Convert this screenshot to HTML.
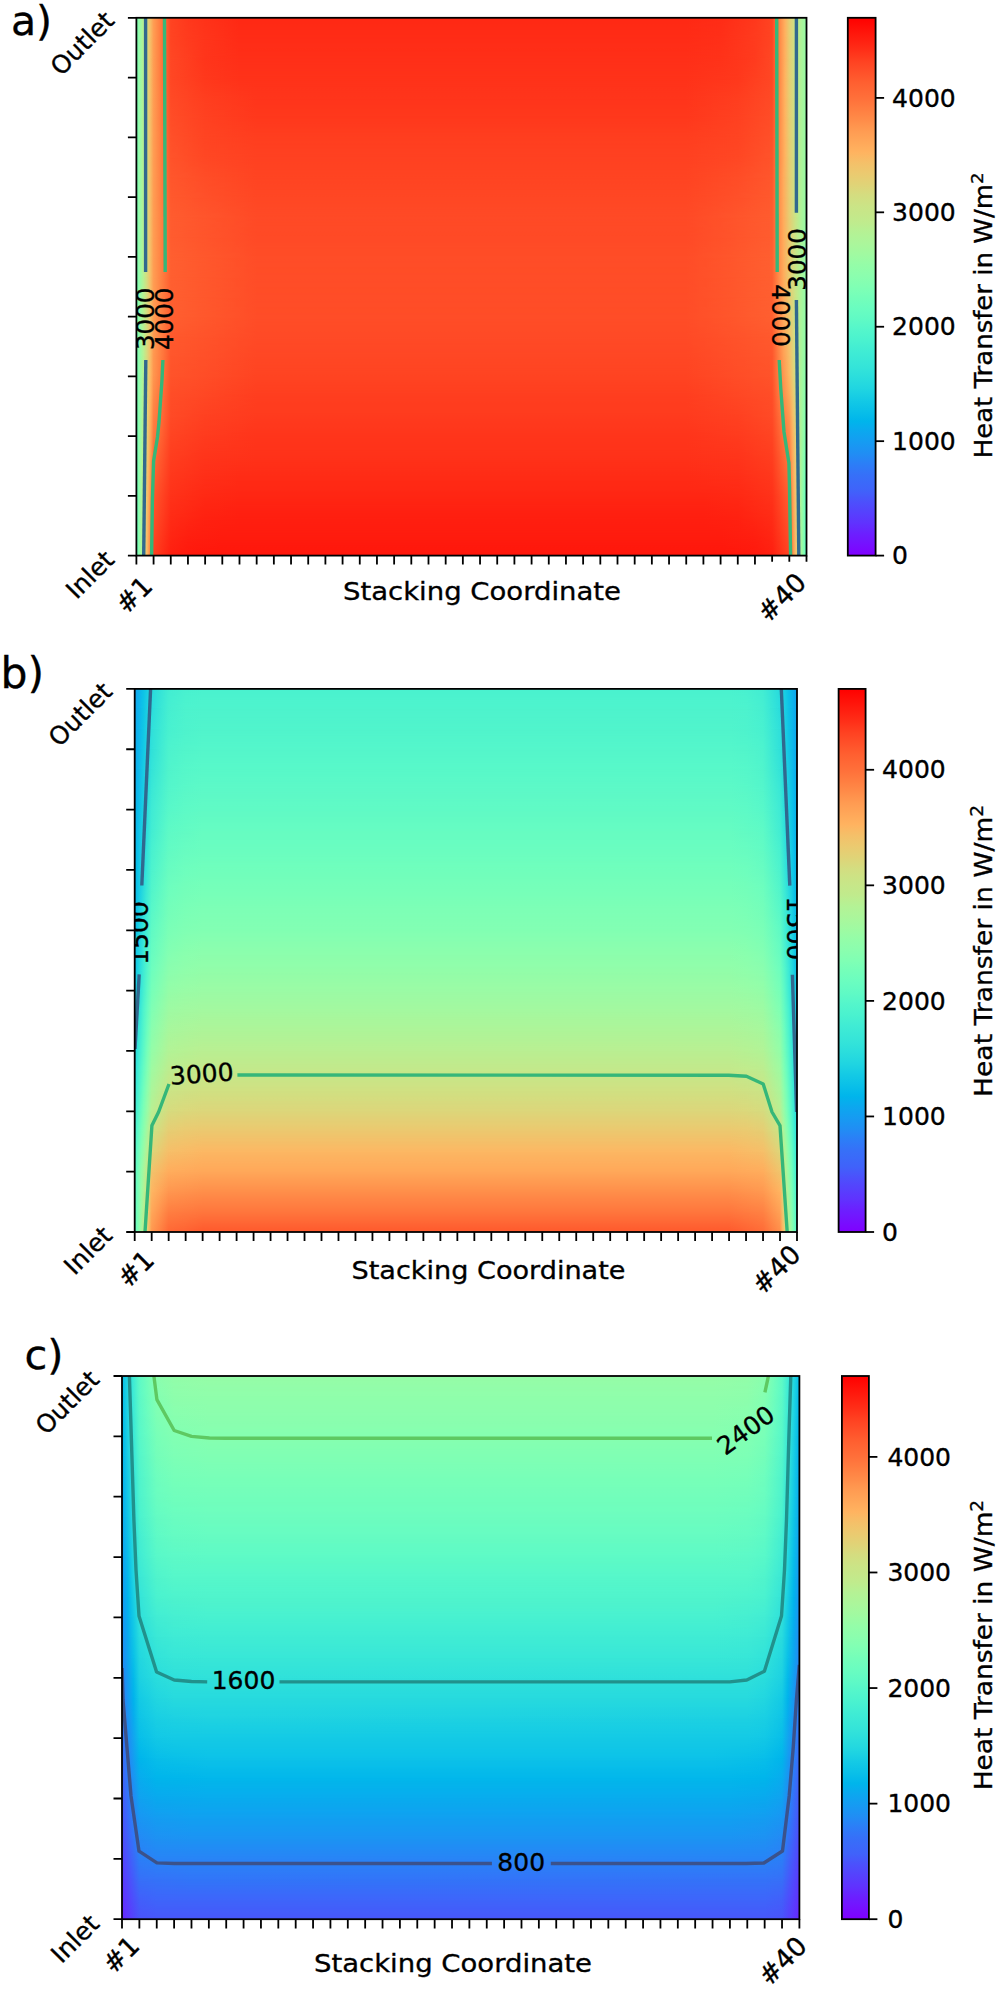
<!DOCTYPE html>
<html><head><meta charset="utf-8"><title>Heat Transfer</title>
<style>html,body{margin:0;padding:0;background:#fff}svg{display:block}text{font-family:'DejaVu Sans','Liberation Sans',sans-serif;fill:#000;stroke:#000;stroke-width:.35px}</style>
</head><body>
<svg width="1000" height="1990" viewBox="0 0 1000 1990">
<defs>
<linearGradient id="va" x1="0" y1="0" x2="0" y2="1"><stop offset="0" stop-color="#fff" stop-opacity="0"/><stop offset="1" stop-color="#fff" stop-opacity="1"/></linearGradient>
<mask id="mk" maskContentUnits="objectBoundingBox" x="0" y="0" width="1" height="1"><rect width="1" height="1" fill="url(#va)"/></mask>
<clipPath id="ca"><rect x="136.4" y="17.8" width="670.1" height="537.8"/></clipPath>
<linearGradient id="g0" gradientUnits="userSpaceOnUse" x1="136.4" x2="806.5" y1="0" y2="0"><stop offset="0" stop-color="#7affb7"/><stop offset=".0051" stop-color="#99fca6"/><stop offset=".0103" stop-color="#b6f193"/><stop offset=".0154" stop-color="#d6db7e"/><stop offset=".0205" stop-color="#f4c069"/><stop offset=".0256" stop-color="#ff9d53"/><stop offset=".0385" stop-color="#ff733b"/><stop offset=".0513" stop-color="#ff4422"/><stop offset=".0769" stop-color="#ff381c"/><stop offset=".1026" stop-color="#ff3219"/><stop offset=".1538" stop-color="#ff2914"/><stop offset=".8205" stop-color="#ff2914"/><stop offset=".8718" stop-color="#ff2c16"/><stop offset=".9231" stop-color="#ff381c"/><stop offset=".9487" stop-color="#ff4422"/><stop offset=".9551" stop-color="#ff6b37"/><stop offset=".9615" stop-color="#ff914c"/><stop offset=".9679" stop-color="#ffb05f"/><stop offset=".9744" stop-color="#e6cd73"/><stop offset=".9829" stop-color="#cce385"/><stop offset=".9915" stop-color="#b0f397"/><stop offset="1" stop-color="#94fda8"/></linearGradient>
<linearGradient id="g1" gradientUnits="userSpaceOnUse" x1="136.4" x2="806.5" y1="0" y2="0"><stop offset="0" stop-color="#7affb7"/><stop offset=".0051" stop-color="#99fca6"/><stop offset=".0103" stop-color="#b6f193"/><stop offset=".0154" stop-color="#d6db7e"/><stop offset=".0205" stop-color="#f4c069"/><stop offset=".0256" stop-color="#ff9d53"/><stop offset=".0385" stop-color="#ff733b"/><stop offset=".0513" stop-color="#ff4422"/><stop offset=".0769" stop-color="#ff3b1e"/><stop offset=".1026" stop-color="#ff351b"/><stop offset=".1538" stop-color="#ff2c16"/><stop offset=".8205" stop-color="#ff2c16"/><stop offset=".8718" stop-color="#ff2f18"/><stop offset=".9231" stop-color="#ff3b1e"/><stop offset=".9487" stop-color="#ff4422"/><stop offset=".9551" stop-color="#ff6d38"/><stop offset=".9615" stop-color="#ff914c"/><stop offset=".9679" stop-color="#ffb05f"/><stop offset=".9744" stop-color="#e6cd73"/><stop offset=".9829" stop-color="#cce385"/><stop offset=".9915" stop-color="#b0f397"/><stop offset="1" stop-color="#94fda8"/></linearGradient>
<linearGradient id="g2" gradientUnits="userSpaceOnUse" x1="136.4" x2="806.5" y1="0" y2="0"><stop offset="0" stop-color="#7affb7"/><stop offset=".0051" stop-color="#99fca6"/><stop offset=".0103" stop-color="#b6f193"/><stop offset=".0154" stop-color="#d6db7e"/><stop offset=".0205" stop-color="#f4c069"/><stop offset=".0256" stop-color="#ff9d53"/><stop offset=".0385" stop-color="#ff733b"/><stop offset=".0513" stop-color="#ff4724"/><stop offset=".1026" stop-color="#ff351b"/><stop offset=".1538" stop-color="#ff2f18"/><stop offset=".8205" stop-color="#ff2f18"/><stop offset=".8718" stop-color="#ff3219"/><stop offset=".9231" stop-color="#ff3b1e"/><stop offset=".9487" stop-color="#ff4724"/><stop offset=".9551" stop-color="#ff6d38"/><stop offset=".9615" stop-color="#ff914c"/><stop offset=".9679" stop-color="#ffb05f"/><stop offset=".9744" stop-color="#e6cd73"/><stop offset=".9829" stop-color="#cce385"/><stop offset=".9915" stop-color="#b0f397"/><stop offset="1" stop-color="#94fda8"/></linearGradient>
<linearGradient id="g3" gradientUnits="userSpaceOnUse" x1="136.4" x2="806.5" y1="0" y2="0"><stop offset="0" stop-color="#7affb7"/><stop offset=".0051" stop-color="#99fca6"/><stop offset=".0103" stop-color="#b6f193"/><stop offset=".0154" stop-color="#d6db7e"/><stop offset=".0205" stop-color="#f4c069"/><stop offset=".0256" stop-color="#ff9d53"/><stop offset=".0385" stop-color="#ff733b"/><stop offset=".0513" stop-color="#ff4724"/><stop offset=".1026" stop-color="#ff381c"/><stop offset=".1538" stop-color="#ff3219"/><stop offset=".8205" stop-color="#ff3219"/><stop offset=".8974" stop-color="#ff381c"/><stop offset=".9487" stop-color="#ff4724"/><stop offset=".9551" stop-color="#ff6d38"/><stop offset=".9615" stop-color="#ff914c"/><stop offset=".9679" stop-color="#ffb360"/><stop offset=".9744" stop-color="#e6cd73"/><stop offset=".9829" stop-color="#cce385"/><stop offset=".9915" stop-color="#b0f397"/><stop offset="1" stop-color="#94fda8"/></linearGradient>
<linearGradient id="g4" gradientUnits="userSpaceOnUse" x1="136.4" x2="806.5" y1="0" y2="0"><stop offset="0" stop-color="#7affb7"/><stop offset=".0051" stop-color="#99fca6"/><stop offset=".0103" stop-color="#b6f193"/><stop offset=".0154" stop-color="#d6db7e"/><stop offset=".0205" stop-color="#f4c069"/><stop offset=".0256" stop-color="#ff9d53"/><stop offset=".0385" stop-color="#ff763d"/><stop offset=".0513" stop-color="#ff4a26"/><stop offset=".1026" stop-color="#ff3e1f"/><stop offset=".1795" stop-color="#ff351b"/><stop offset=".8205" stop-color="#ff351b"/><stop offset=".8974" stop-color="#ff3e1f"/><stop offset=".9487" stop-color="#ff4a26"/><stop offset=".9551" stop-color="#ff703a"/><stop offset=".9615" stop-color="#ff934d"/><stop offset=".9679" stop-color="#ffb360"/><stop offset=".9744" stop-color="#e6cd73"/><stop offset=".9829" stop-color="#cce385"/><stop offset=".9915" stop-color="#b0f397"/><stop offset="1" stop-color="#94fda8"/></linearGradient>
<linearGradient id="g5" gradientUnits="userSpaceOnUse" x1="136.4" x2="806.5" y1="0" y2="0"><stop offset="0" stop-color="#7affb7"/><stop offset=".0051" stop-color="#99fca6"/><stop offset=".0103" stop-color="#b6f193"/><stop offset=".0154" stop-color="#d6db7e"/><stop offset=".0205" stop-color="#f4c069"/><stop offset=".0256" stop-color="#ff9d53"/><stop offset=".0385" stop-color="#ff763d"/><stop offset=".0513" stop-color="#ff4d27"/><stop offset=".1026" stop-color="#ff4121"/><stop offset=".1795" stop-color="#ff381c"/><stop offset=".8205" stop-color="#ff381c"/><stop offset=".8974" stop-color="#ff4121"/><stop offset=".9487" stop-color="#ff4d27"/><stop offset=".9551" stop-color="#ff703a"/><stop offset=".9615" stop-color="#ff934d"/><stop offset=".9679" stop-color="#ffb360"/><stop offset=".9744" stop-color="#e6cd73"/><stop offset=".9829" stop-color="#cce385"/><stop offset=".9915" stop-color="#b0f397"/><stop offset="1" stop-color="#94fda8"/></linearGradient>
<linearGradient id="g6" gradientUnits="userSpaceOnUse" x1="136.4" x2="806.5" y1="0" y2="0"><stop offset="0" stop-color="#7affb7"/><stop offset=".0051" stop-color="#99fca6"/><stop offset=".0103" stop-color="#b6f193"/><stop offset=".0154" stop-color="#d6db7e"/><stop offset=".0205" stop-color="#f4c069"/><stop offset=".0256" stop-color="#ff9d53"/><stop offset=".0385" stop-color="#ff793e"/><stop offset=".0513" stop-color="#ff5029"/><stop offset=".1026" stop-color="#ff4422"/><stop offset=".1795" stop-color="#ff3e1f"/><stop offset=".8205" stop-color="#ff3e1f"/><stop offset=".8974" stop-color="#ff4422"/><stop offset=".9487" stop-color="#ff5029"/><stop offset=".9551" stop-color="#ff733b"/><stop offset=".9615" stop-color="#ff964f"/><stop offset=".9679" stop-color="#ffb360"/><stop offset=".9744" stop-color="#e6cd73"/><stop offset=".9829" stop-color="#cce385"/><stop offset=".9915" stop-color="#b0f397"/><stop offset="1" stop-color="#94fda8"/></linearGradient>
<linearGradient id="g7" gradientUnits="userSpaceOnUse" x1="136.4" x2="806.5" y1="0" y2="0"><stop offset="0" stop-color="#7affb7"/><stop offset=".0051" stop-color="#99fca6"/><stop offset=".0103" stop-color="#b6f193"/><stop offset=".0154" stop-color="#d6db7e"/><stop offset=".0205" stop-color="#f4c069"/><stop offset=".0256" stop-color="#ff9d53"/><stop offset=".0385" stop-color="#ff793e"/><stop offset=".0513" stop-color="#ff532a"/><stop offset=".1026" stop-color="#ff4724"/><stop offset=".1795" stop-color="#ff4121"/><stop offset=".8205" stop-color="#ff4121"/><stop offset=".8974" stop-color="#ff4724"/><stop offset=".9487" stop-color="#ff532a"/><stop offset=".9551" stop-color="#ff763d"/><stop offset=".9615" stop-color="#ff964f"/><stop offset=".9679" stop-color="#ffb360"/><stop offset=".9744" stop-color="#e6cd73"/><stop offset=".9829" stop-color="#cce385"/><stop offset=".9915" stop-color="#b0f397"/><stop offset="1" stop-color="#94fda8"/></linearGradient>
<linearGradient id="g8" gradientUnits="userSpaceOnUse" x1="136.4" x2="806.5" y1="0" y2="0"><stop offset="0" stop-color="#7affb7"/><stop offset=".0051" stop-color="#99fca6"/><stop offset=".0103" stop-color="#b6f193"/><stop offset=".0154" stop-color="#d6db7e"/><stop offset=".0205" stop-color="#f4c069"/><stop offset=".0256" stop-color="#ff9d53"/><stop offset=".0385" stop-color="#ff7b40"/><stop offset=".0513" stop-color="#ff562c"/><stop offset=".1026" stop-color="#ff4d27"/><stop offset=".1795" stop-color="#ff4422"/><stop offset=".8205" stop-color="#ff4422"/><stop offset=".8974" stop-color="#ff4d27"/><stop offset=".9487" stop-color="#ff562c"/><stop offset=".9573" stop-color="#ff8444"/><stop offset=".9658" stop-color="#ffac5c"/><stop offset=".9744" stop-color="#e6cd73"/><stop offset=".9829" stop-color="#cce385"/><stop offset=".9915" stop-color="#b0f397"/><stop offset="1" stop-color="#94fda8"/></linearGradient>
<linearGradient id="g9" gradientUnits="userSpaceOnUse" x1="136.4" x2="806.5" y1="0" y2="0"><stop offset="0" stop-color="#7affb7"/><stop offset=".0051" stop-color="#99fca6"/><stop offset=".0103" stop-color="#b6f193"/><stop offset=".0154" stop-color="#d6db7e"/><stop offset=".0205" stop-color="#f4c069"/><stop offset=".0256" stop-color="#ff9d53"/><stop offset=".0385" stop-color="#ff7b40"/><stop offset=".0513" stop-color="#ff592d"/><stop offset=".1026" stop-color="#ff5029"/><stop offset=".1795" stop-color="#ff4724"/><stop offset=".8205" stop-color="#ff4724"/><stop offset=".8974" stop-color="#ff5029"/><stop offset=".9487" stop-color="#ff592d"/><stop offset=".9573" stop-color="#ff8646"/><stop offset=".9658" stop-color="#ffac5c"/><stop offset=".9744" stop-color="#e6cd73"/><stop offset=".9829" stop-color="#cce385"/><stop offset=".9915" stop-color="#b0f397"/><stop offset="1" stop-color="#94fda8"/></linearGradient>
<linearGradient id="g10" gradientUnits="userSpaceOnUse" x1="136.4" x2="806.5" y1="0" y2="0"><stop offset="0" stop-color="#7affb7"/><stop offset=".0051" stop-color="#99fca6"/><stop offset=".0103" stop-color="#b6f193"/><stop offset=".0154" stop-color="#d6db7e"/><stop offset=".0205" stop-color="#f4c069"/><stop offset=".0256" stop-color="#ff9d53"/><stop offset=".0385" stop-color="#ff7e41"/><stop offset=".0513" stop-color="#ff5c2f"/><stop offset=".1795" stop-color="#ff4a26"/><stop offset=".8205" stop-color="#ff4a26"/><stop offset=".9487" stop-color="#ff5c2f"/><stop offset=".9573" stop-color="#ff8646"/><stop offset=".9658" stop-color="#ffac5c"/><stop offset=".9744" stop-color="#e6cd73"/><stop offset=".9829" stop-color="#cce385"/><stop offset=".9915" stop-color="#b0f397"/><stop offset="1" stop-color="#94fda8"/></linearGradient>
<linearGradient id="g11" gradientUnits="userSpaceOnUse" x1="136.4" x2="806.5" y1="0" y2="0"><stop offset="0" stop-color="#7affb7"/><stop offset=".0051" stop-color="#99fca6"/><stop offset=".0103" stop-color="#b6f193"/><stop offset=".0154" stop-color="#d6db7e"/><stop offset=".0205" stop-color="#f4c069"/><stop offset=".0256" stop-color="#ff9d53"/><stop offset=".0385" stop-color="#ff7e41"/><stop offset=".0513" stop-color="#ff5c2f"/><stop offset=".1795" stop-color="#ff4a26"/><stop offset=".8205" stop-color="#ff4a26"/><stop offset=".9487" stop-color="#ff5c2f"/><stop offset=".9573" stop-color="#ff8646"/><stop offset=".9658" stop-color="#ffac5c"/><stop offset=".9744" stop-color="#e8cb72"/><stop offset=".9829" stop-color="#cce385"/><stop offset=".9915" stop-color="#aef498"/><stop offset="1" stop-color="#92fda9"/></linearGradient>
<linearGradient id="g12" gradientUnits="userSpaceOnUse" x1="136.4" x2="806.5" y1="0" y2="0"><stop offset="0" stop-color="#7affb7"/><stop offset=".0051" stop-color="#99fca6"/><stop offset=".0103" stop-color="#b6f193"/><stop offset=".0154" stop-color="#d6db7e"/><stop offset=".0205" stop-color="#f4c069"/><stop offset=".0256" stop-color="#ff9d53"/><stop offset=".0385" stop-color="#ff7e41"/><stop offset=".0513" stop-color="#ff5f30"/><stop offset=".1795" stop-color="#ff4d27"/><stop offset=".8205" stop-color="#ff4d27"/><stop offset=".9487" stop-color="#ff5f30"/><stop offset=".9573" stop-color="#ff8947"/><stop offset=".9658" stop-color="#ffac5c"/><stop offset=".9744" stop-color="#e8cb72"/><stop offset=".9829" stop-color="#cbe486"/><stop offset=".9915" stop-color="#aef498"/><stop offset="1" stop-color="#92fda9"/></linearGradient>
<linearGradient id="g13" gradientUnits="userSpaceOnUse" x1="136.4" x2="806.5" y1="0" y2="0"><stop offset="0" stop-color="#78ffb8"/><stop offset=".0051" stop-color="#99fca6"/><stop offset=".0103" stop-color="#b6f193"/><stop offset=".0154" stop-color="#d4dd80"/><stop offset=".0205" stop-color="#f4c069"/><stop offset=".0256" stop-color="#ff9d53"/><stop offset=".0385" stop-color="#ff7e41"/><stop offset=".0513" stop-color="#ff5f30"/><stop offset=".1795" stop-color="#ff4d27"/><stop offset=".8205" stop-color="#ff4d27"/><stop offset=".9487" stop-color="#ff5f30"/><stop offset=".9573" stop-color="#ff8646"/><stop offset=".9658" stop-color="#ffac5c"/><stop offset=".9744" stop-color="#e8cb72"/><stop offset=".9829" stop-color="#cbe486"/><stop offset=".9915" stop-color="#aef498"/><stop offset="1" stop-color="#90feab"/></linearGradient>
<linearGradient id="g14" gradientUnits="userSpaceOnUse" x1="136.4" x2="806.5" y1="0" y2="0"><stop offset="0" stop-color="#78ffb8"/><stop offset=".0051" stop-color="#96fca7"/><stop offset=".0103" stop-color="#b6f193"/><stop offset=".0154" stop-color="#d4dd80"/><stop offset=".0205" stop-color="#f4c069"/><stop offset=".0256" stop-color="#ff9d53"/><stop offset=".0385" stop-color="#ff7e41"/><stop offset=".0513" stop-color="#ff5f30"/><stop offset=".1795" stop-color="#ff4d27"/><stop offset=".8205" stop-color="#ff4d27"/><stop offset=".9487" stop-color="#ff5f30"/><stop offset=".9573" stop-color="#ff8646"/><stop offset=".9658" stop-color="#ffa95b"/><stop offset=".9744" stop-color="#ebca70"/><stop offset=".9829" stop-color="#cce385"/><stop offset=".9915" stop-color="#aef498"/><stop offset="1" stop-color="#8efeac"/></linearGradient>
<linearGradient id="g15" gradientUnits="userSpaceOnUse" x1="136.4" x2="806.5" y1="0" y2="0"><stop offset="0" stop-color="#78ffb8"/><stop offset=".0051" stop-color="#96fca7"/><stop offset=".0103" stop-color="#b6f193"/><stop offset=".0154" stop-color="#d4dd80"/><stop offset=".0205" stop-color="#f4c069"/><stop offset=".0256" stop-color="#ff9d53"/><stop offset=".0385" stop-color="#ff7e41"/><stop offset=".0513" stop-color="#ff5f30"/><stop offset=".1795" stop-color="#ff4d27"/><stop offset=".8205" stop-color="#ff4d27"/><stop offset=".9487" stop-color="#ff5f30"/><stop offset=".9573" stop-color="#ff8646"/><stop offset=".9658" stop-color="#ffa95b"/><stop offset=".9744" stop-color="#ecc86f"/><stop offset=".9829" stop-color="#cce385"/><stop offset=".9915" stop-color="#acf59a"/><stop offset="1" stop-color="#8efeac"/></linearGradient>
<linearGradient id="g16" gradientUnits="userSpaceOnUse" x1="136.4" x2="806.5" y1="0" y2="0"><stop offset="0" stop-color="#76ffb9"/><stop offset=".0051" stop-color="#96fca7"/><stop offset=".0103" stop-color="#b6f193"/><stop offset=".0154" stop-color="#d6db7e"/><stop offset=".0205" stop-color="#f4c069"/><stop offset=".0256" stop-color="#ff9b52"/><stop offset=".0385" stop-color="#ff7b40"/><stop offset=".0513" stop-color="#ff592d"/><stop offset=".1795" stop-color="#ff4a26"/><stop offset=".8205" stop-color="#ff4a26"/><stop offset=".9487" stop-color="#ff592d"/><stop offset=".9573" stop-color="#ff8143"/><stop offset=".9658" stop-color="#ffa558"/><stop offset=".9744" stop-color="#f2c26b"/><stop offset=".9808" stop-color="#d9da7d"/><stop offset=".9872" stop-color="#beec8e"/><stop offset=".9936" stop-color="#a4f89f"/><stop offset="1" stop-color="#8bfeae"/></linearGradient>
<linearGradient id="g17" gradientUnits="userSpaceOnUse" x1="136.4" x2="806.5" y1="0" y2="0"><stop offset="0" stop-color="#76ffb9"/><stop offset=".0051" stop-color="#96fca7"/><stop offset=".0103" stop-color="#b6f193"/><stop offset=".0154" stop-color="#d6db7e"/><stop offset=".0205" stop-color="#f6be68"/><stop offset=".0256" stop-color="#ff9850"/><stop offset=".0385" stop-color="#ff793e"/><stop offset=".0513" stop-color="#ff562c"/><stop offset=".1795" stop-color="#ff4724"/><stop offset=".8205" stop-color="#ff4724"/><stop offset=".9487" stop-color="#ff562c"/><stop offset=".9573" stop-color="#ff7b40"/><stop offset=".9658" stop-color="#ffa055"/><stop offset=".9744" stop-color="#f6be68"/><stop offset=".9808" stop-color="#dbd87b"/><stop offset=".9872" stop-color="#c0eb8d"/><stop offset=".9936" stop-color="#a4f89f"/><stop offset="1" stop-color="#88ffaf"/></linearGradient>
<linearGradient id="g18" gradientUnits="userSpaceOnUse" x1="136.4" x2="806.5" y1="0" y2="0"><stop offset="0" stop-color="#74feba"/><stop offset=".0043" stop-color="#90feab"/><stop offset=".0085" stop-color="#abf69b"/><stop offset=".0128" stop-color="#c6e789"/><stop offset=".0171" stop-color="#e2d176"/><stop offset=".0214" stop-color="#feb562"/><stop offset=".0256" stop-color="#ff964f"/><stop offset=".0385" stop-color="#ff763d"/><stop offset=".0513" stop-color="#ff532a"/><stop offset=".1795" stop-color="#ff4422"/><stop offset=".8205" stop-color="#ff4422"/><stop offset=".9487" stop-color="#ff532a"/><stop offset=".9573" stop-color="#ff793e"/><stop offset=".9658" stop-color="#ff9850"/><stop offset=".9744" stop-color="#fcb763"/><stop offset=".9808" stop-color="#ded579"/><stop offset=".9872" stop-color="#c0eb8d"/><stop offset=".9936" stop-color="#a2f9a0"/><stop offset="1" stop-color="#84ffb2"/></linearGradient>
<linearGradient id="g19" gradientUnits="userSpaceOnUse" x1="136.4" x2="806.5" y1="0" y2="0"><stop offset="0" stop-color="#72febb"/><stop offset=".0043" stop-color="#90feab"/><stop offset=".0085" stop-color="#acf59a"/><stop offset=".0128" stop-color="#cbe486"/><stop offset=".0171" stop-color="#e6cd73"/><stop offset=".0214" stop-color="#ffb05f"/><stop offset=".0256" stop-color="#ff8c49"/><stop offset=".0385" stop-color="#ff6d38"/><stop offset=".0513" stop-color="#ff4d27"/><stop offset=".1026" stop-color="#ff4724"/><stop offset=".1795" stop-color="#ff3e1f"/><stop offset=".8205" stop-color="#ff3e1f"/><stop offset=".8974" stop-color="#ff4724"/><stop offset=".9487" stop-color="#ff4d27"/><stop offset=".9573" stop-color="#ff703a"/><stop offset=".9658" stop-color="#ff8e4a"/><stop offset=".9744" stop-color="#ffa95b"/><stop offset=".9795" stop-color="#eec66d"/><stop offset=".9846" stop-color="#d2de81"/><stop offset=".9897" stop-color="#b6f193"/><stop offset=".9949" stop-color="#9bfba5"/><stop offset="1" stop-color="#80ffb4"/></linearGradient>
<linearGradient id="g20" gradientUnits="userSpaceOnUse" x1="136.4" x2="806.5" y1="0" y2="0"><stop offset="0" stop-color="#70febc"/><stop offset=".0043" stop-color="#8efeac"/><stop offset=".0085" stop-color="#aef498"/><stop offset=".0128" stop-color="#cce385"/><stop offset=".0171" stop-color="#ebca70"/><stop offset=".0214" stop-color="#ffa95b"/><stop offset=".0256" stop-color="#ff8143"/><stop offset=".0385" stop-color="#ff6835"/><stop offset=".0513" stop-color="#ff4a26"/><stop offset=".1026" stop-color="#ff4121"/><stop offset=".1795" stop-color="#ff3b1e"/><stop offset=".8205" stop-color="#ff3b1e"/><stop offset=".8974" stop-color="#ff4121"/><stop offset=".9487" stop-color="#ff4a26"/><stop offset=".9615" stop-color="#ff733b"/><stop offset=".9744" stop-color="#ff9850"/><stop offset=".9795" stop-color="#f6be68"/><stop offset=".9846" stop-color="#d9da7d"/><stop offset=".9897" stop-color="#b9ef92"/><stop offset=".9949" stop-color="#99fca6"/><stop offset="1" stop-color="#7affb7"/></linearGradient>
<linearGradient id="g21" gradientUnits="userSpaceOnUse" x1="136.4" x2="806.5" y1="0" y2="0"><stop offset="0" stop-color="#6efebe"/><stop offset=".0043" stop-color="#8efeac"/><stop offset=".0085" stop-color="#aef498"/><stop offset=".0128" stop-color="#cee184"/><stop offset=".0171" stop-color="#eec66d"/><stop offset=".0214" stop-color="#ffa256"/><stop offset=".0256" stop-color="#ff793e"/><stop offset=".0385" stop-color="#ff5f30"/><stop offset=".0513" stop-color="#ff4422"/><stop offset=".1026" stop-color="#ff3b1e"/><stop offset=".1795" stop-color="#ff351b"/><stop offset=".8205" stop-color="#ff351b"/><stop offset=".8974" stop-color="#ff3b1e"/><stop offset=".9487" stop-color="#ff4422"/><stop offset=".9615" stop-color="#ff6835"/><stop offset=".9744" stop-color="#ff8947"/><stop offset=".9786" stop-color="#ffac5c"/><stop offset=".9829" stop-color="#e8cb72"/><stop offset=".9872" stop-color="#cce385"/><stop offset=".9915" stop-color="#aef498"/><stop offset=".9957" stop-color="#92fda9"/><stop offset="1" stop-color="#74feba"/></linearGradient>
<linearGradient id="g22" gradientUnits="userSpaceOnUse" x1="136.4" x2="806.5" y1="0" y2="0"><stop offset="0" stop-color="#6dfdbf"/><stop offset=".0037" stop-color="#8bfeae"/><stop offset=".0073" stop-color="#a6f89d"/><stop offset=".011" stop-color="#c4e88a"/><stop offset=".0147" stop-color="#e0d377"/><stop offset=".0183" stop-color="#fcb763"/><stop offset=".022" stop-color="#ff934d"/><stop offset=".0256" stop-color="#ff6d38"/><stop offset=".0513" stop-color="#ff3e1f"/><stop offset=".1026" stop-color="#ff351b"/><stop offset=".1795" stop-color="#ff3219"/><stop offset=".8205" stop-color="#ff3219"/><stop offset=".8974" stop-color="#ff351b"/><stop offset=".9487" stop-color="#ff3e1f"/><stop offset=".9615" stop-color="#ff5c2f"/><stop offset=".9744" stop-color="#ff7b40"/><stop offset=".9786" stop-color="#ffa558"/><stop offset=".9829" stop-color="#ecc86f"/><stop offset=".9872" stop-color="#cce385"/><stop offset=".9915" stop-color="#acf59a"/><stop offset=".9957" stop-color="#8cfead"/><stop offset="1" stop-color="#6dfdbf"/></linearGradient>
<linearGradient id="g23" gradientUnits="userSpaceOnUse" x1="136.4" x2="806.5" y1="0" y2="0"><stop offset="0" stop-color="#6dfdbf"/><stop offset=".0037" stop-color="#8bfeae"/><stop offset=".0073" stop-color="#a8f79c"/><stop offset=".011" stop-color="#c6e789"/><stop offset=".0147" stop-color="#e4cf74"/><stop offset=".0183" stop-color="#ffb05f"/><stop offset=".022" stop-color="#ff8c49"/><stop offset=".0256" stop-color="#ff6232"/><stop offset=".0513" stop-color="#ff381c"/><stop offset=".1026" stop-color="#ff2f18"/><stop offset=".1538" stop-color="#ff2c16"/><stop offset=".8205" stop-color="#ff2c16"/><stop offset=".8974" stop-color="#ff2f18"/><stop offset=".9487" stop-color="#ff381c"/><stop offset=".9615" stop-color="#ff532a"/><stop offset=".9744" stop-color="#ff6d38"/><stop offset=".978" stop-color="#ff964f"/><stop offset=".9817" stop-color="#fbb965"/><stop offset=".9853" stop-color="#ded579"/><stop offset=".989" stop-color="#c0eb8d"/><stop offset=".9927" stop-color="#a2f9a0"/><stop offset=".9963" stop-color="#84ffb2"/><stop offset="1" stop-color="#66fcc2"/></linearGradient>
<linearGradient id="g24" gradientUnits="userSpaceOnUse" x1="136.4" x2="806.5" y1="0" y2="0"><stop offset="0" stop-color="#6afdc0"/><stop offset=".0037" stop-color="#88ffaf"/><stop offset=".0073" stop-color="#a8f79c"/><stop offset=".011" stop-color="#c8e688"/><stop offset=".0147" stop-color="#e6cd73"/><stop offset=".0183" stop-color="#ffac5c"/><stop offset=".022" stop-color="#ff8444"/><stop offset=".0256" stop-color="#ff562c"/><stop offset=".0513" stop-color="#ff3219"/><stop offset=".1026" stop-color="#ff2914"/><stop offset=".1538" stop-color="#ff2613"/><stop offset=".8462" stop-color="#ff2613"/><stop offset=".8974" stop-color="#ff2914"/><stop offset=".9487" stop-color="#ff3219"/><stop offset=".9744" stop-color="#ff5f30"/><stop offset=".978" stop-color="#ff8c49"/><stop offset=".9817" stop-color="#ffb360"/><stop offset=".9853" stop-color="#e0d377"/><stop offset=".989" stop-color="#c0eb8d"/><stop offset=".9927" stop-color="#a0faa1"/><stop offset=".9963" stop-color="#7effb5"/><stop offset="1" stop-color="#5efac6"/></linearGradient>
<linearGradient id="g25" gradientUnits="userSpaceOnUse" x1="136.4" x2="806.5" y1="0" y2="0"><stop offset="0" stop-color="#68fcc1"/><stop offset=".0037" stop-color="#88ffaf"/><stop offset=".0073" stop-color="#abf69b"/><stop offset=".011" stop-color="#cbe486"/><stop offset=".0147" stop-color="#ebca70"/><stop offset=".0183" stop-color="#ffa759"/><stop offset=".022" stop-color="#ff7e41"/><stop offset=".0256" stop-color="#ff5029"/><stop offset=".0513" stop-color="#ff2c16"/><stop offset=".1026" stop-color="#ff2211"/><stop offset=".1538" stop-color="#ff1f10"/><stop offset=".8462" stop-color="#ff1f10"/><stop offset=".8974" stop-color="#ff2211"/><stop offset=".9487" stop-color="#ff2c16"/><stop offset=".9744" stop-color="#ff562c"/><stop offset=".9776" stop-color="#ff7e41"/><stop offset=".9808" stop-color="#ffa558"/><stop offset=".984" stop-color="#eec66d"/><stop offset=".9872" stop-color="#d2de81"/><stop offset=".9904" stop-color="#b4f295"/><stop offset=".9936" stop-color="#99fca6"/><stop offset=".9968" stop-color="#7affb7"/><stop offset="1" stop-color="#5efac6"/></linearGradient>
<linearGradient id="g26" gradientUnits="userSpaceOnUse" x1="136.4" x2="806.5" y1="0" y2="0"><stop offset="0" stop-color="#68fcc1"/><stop offset=".0032" stop-color="#84ffb2"/><stop offset=".0064" stop-color="#a2f9a0"/><stop offset=".0096" stop-color="#beec8e"/><stop offset=".0128" stop-color="#dcd67a"/><stop offset=".016" stop-color="#fbb965"/><stop offset=".0192" stop-color="#ff9850"/><stop offset=".0224" stop-color="#ff703a"/><stop offset=".0256" stop-color="#ff4724"/><stop offset=".0513" stop-color="#ff2613"/><stop offset=".0769" stop-color="#ff1f10"/><stop offset=".1282" stop-color="#ff1c0e"/><stop offset=".8718" stop-color="#ff1c0e"/><stop offset=".9231" stop-color="#ff1f10"/><stop offset=".9487" stop-color="#ff2613"/><stop offset=".9744" stop-color="#ff4d27"/><stop offset=".9776" stop-color="#ff793e"/><stop offset=".9808" stop-color="#ffa055"/><stop offset=".984" stop-color="#f2c26b"/><stop offset=".9872" stop-color="#d4dd80"/><stop offset=".9904" stop-color="#b6f193"/><stop offset=".9936" stop-color="#99fca6"/><stop offset=".9968" stop-color="#7affb7"/><stop offset="1" stop-color="#5df9c7"/></linearGradient>
<linearGradient id="g27" gradientUnits="userSpaceOnUse" x1="136.4" x2="806.5" y1="0" y2="0"><stop offset="0" stop-color="#68fcc1"/><stop offset=".0032" stop-color="#84ffb2"/><stop offset=".0064" stop-color="#a2f9a0"/><stop offset=".0096" stop-color="#c0eb8d"/><stop offset=".0128" stop-color="#ded579"/><stop offset=".016" stop-color="#fcb763"/><stop offset=".0192" stop-color="#ff934d"/><stop offset=".0224" stop-color="#ff6b37"/><stop offset=".0256" stop-color="#ff3e1f"/><stop offset=".0513" stop-color="#ff1f10"/><stop offset=".0769" stop-color="#ff190d"/><stop offset=".1282" stop-color="#ff160b"/><stop offset=".8718" stop-color="#ff160b"/><stop offset=".9231" stop-color="#ff190d"/><stop offset=".9487" stop-color="#ff1f10"/><stop offset=".9744" stop-color="#ff4422"/><stop offset=".9776" stop-color="#ff733b"/><stop offset=".9808" stop-color="#ff9b52"/><stop offset=".984" stop-color="#f4c069"/><stop offset=".9872" stop-color="#d6db7e"/><stop offset=".9904" stop-color="#b9ef92"/><stop offset=".9936" stop-color="#99fca6"/><stop offset=".9968" stop-color="#7affb7"/><stop offset="1" stop-color="#5df9c7"/></linearGradient>
<linearGradient id="cba" x1="0" x2="0" y1="1" y2="0"><stop offset="0" stop-color="#8000ff"/><stop offset="0.02" stop-color="#7610ff"/><stop offset="0.04" stop-color="#6c1fff"/><stop offset="0.06" stop-color="#6032fe"/><stop offset="0.08" stop-color="#5641fd"/><stop offset="0.1" stop-color="#4c50fc"/><stop offset="0.12" stop-color="#4062fa"/><stop offset="0.15" stop-color="#3670f8"/><stop offset="0.17" stop-color="#2c7ef7"/><stop offset="0.19" stop-color="#208ef4"/><stop offset="0.21" stop-color="#169bf2"/><stop offset="0.23" stop-color="#0ca7ef"/><stop offset="0.25" stop-color="#00b5eb"/><stop offset="0.27" stop-color="#0ac0e8"/><stop offset="0.29" stop-color="#14cae5"/><stop offset="0.31" stop-color="#20d5e1"/><stop offset="0.33" stop-color="#2adddd"/><stop offset="0.35" stop-color="#34e4d9"/><stop offset="0.38" stop-color="#40ecd4"/><stop offset="0.4" stop-color="#4af2cf"/><stop offset="0.42" stop-color="#54f6cb"/><stop offset="0.44" stop-color="#60fac5"/><stop offset="0.46" stop-color="#6afdc0"/><stop offset="0.48" stop-color="#74feba"/><stop offset="0.5" stop-color="#80ffb4"/><stop offset="0.52" stop-color="#8bfeae"/><stop offset="0.54" stop-color="#94fda8"/><stop offset="0.56" stop-color="#a0faa1"/><stop offset="0.58" stop-color="#abf69b"/><stop offset="0.6" stop-color="#b4f295"/><stop offset="0.62" stop-color="#c0eb8d"/><stop offset="0.65" stop-color="#cbe486"/><stop offset="0.67" stop-color="#d4dd80"/><stop offset="0.69" stop-color="#e0d377"/><stop offset="0.71" stop-color="#ebca70"/><stop offset="0.73" stop-color="#f4c069"/><stop offset="0.75" stop-color="#ffb360"/><stop offset="0.77" stop-color="#ffa759"/><stop offset="0.79" stop-color="#ff9b52"/><stop offset="0.81" stop-color="#ff8c49"/><stop offset="0.83" stop-color="#ff7e41"/><stop offset="0.85" stop-color="#ff703a"/><stop offset="0.88" stop-color="#ff5f30"/><stop offset="0.9" stop-color="#ff5029"/><stop offset="0.92" stop-color="#ff4121"/><stop offset="0.94" stop-color="#ff2f18"/><stop offset="0.96" stop-color="#ff1f10"/><stop offset="0.98" stop-color="#ff1008"/><stop offset="1" stop-color="#ff0000"/></linearGradient>
<clipPath id="cb"><rect x="134.7" y="688.9" width="662.3" height="543.1"/></clipPath>
<linearGradient id="g28" gradientUnits="userSpaceOnUse" x1="134.7" x2="797" y1="0" y2="0"><stop offset="0" stop-color="#10a2f0"/><stop offset=".0128" stop-color="#0dc2e8"/><stop offset=".0256" stop-color="#27dade"/><stop offset=".0513" stop-color="#42edd3"/><stop offset=".0769" stop-color="#48f1d0"/><stop offset=".1026" stop-color="#4af2cf"/><stop offset=".8974" stop-color="#4af2cf"/><stop offset=".9231" stop-color="#48f1d0"/><stop offset=".9487" stop-color="#42edd3"/><stop offset=".9744" stop-color="#27dade"/><stop offset=".9872" stop-color="#0dc2e8"/><stop offset="1" stop-color="#10a2f0"/></linearGradient>
<linearGradient id="g29" gradientUnits="userSpaceOnUse" x1="134.7" x2="797" y1="0" y2="0"><stop offset="0" stop-color="#0ea5ef"/><stop offset=".0128" stop-color="#0fc4e7"/><stop offset=".0256" stop-color="#2adddd"/><stop offset=".0513" stop-color="#46efd1"/><stop offset=".0769" stop-color="#4df3ce"/><stop offset=".1026" stop-color="#4ef3cd"/><stop offset=".8974" stop-color="#4ef3cd"/><stop offset=".9231" stop-color="#4df3ce"/><stop offset=".9487" stop-color="#46efd1"/><stop offset=".9744" stop-color="#2adddd"/><stop offset=".9872" stop-color="#0fc4e7"/><stop offset="1" stop-color="#0ea5ef"/></linearGradient>
<linearGradient id="g30" gradientUnits="userSpaceOnUse" x1="134.7" x2="797" y1="0" y2="0"><stop offset="0" stop-color="#0ca7ef"/><stop offset=".0128" stop-color="#10c6e6"/><stop offset=".0256" stop-color="#2fe0db"/><stop offset=".0513" stop-color="#48f1d0"/><stop offset=".0769" stop-color="#4ef3cd"/><stop offset=".1026" stop-color="#50f4cc"/><stop offset=".8974" stop-color="#50f4cc"/><stop offset=".9231" stop-color="#4ef3cd"/><stop offset=".9487" stop-color="#48f1d0"/><stop offset=".9744" stop-color="#2fe0db"/><stop offset=".9872" stop-color="#10c6e6"/><stop offset="1" stop-color="#0ea5ef"/></linearGradient>
<linearGradient id="g31" gradientUnits="userSpaceOnUse" x1="134.7" x2="797" y1="0" y2="0"><stop offset="0" stop-color="#0ca7ef"/><stop offset=".0128" stop-color="#12c8e6"/><stop offset=".0256" stop-color="#30e1da"/><stop offset=".0513" stop-color="#4df3ce"/><stop offset=".0769" stop-color="#52f5cb"/><stop offset=".1026" stop-color="#54f6cb"/><stop offset=".8974" stop-color="#54f6cb"/><stop offset=".9231" stop-color="#52f5cb"/><stop offset=".9487" stop-color="#4df3ce"/><stop offset=".9744" stop-color="#30e1da"/><stop offset=".9872" stop-color="#12c8e6"/><stop offset="1" stop-color="#0ca7ef"/></linearGradient>
<linearGradient id="g32" gradientUnits="userSpaceOnUse" x1="134.7" x2="797" y1="0" y2="0"><stop offset="0" stop-color="#09a9ee"/><stop offset=".0128" stop-color="#17cbe4"/><stop offset=".0256" stop-color="#34e4d9"/><stop offset=".0513" stop-color="#50f4cc"/><stop offset=".0769" stop-color="#56f7ca"/><stop offset=".1026" stop-color="#58f8c9"/><stop offset=".8974" stop-color="#58f8c9"/><stop offset=".9231" stop-color="#56f7ca"/><stop offset=".9487" stop-color="#50f4cc"/><stop offset=".9744" stop-color="#34e4d9"/><stop offset=".9872" stop-color="#17cbe4"/><stop offset="1" stop-color="#09a9ee"/></linearGradient>
<linearGradient id="g33" gradientUnits="userSpaceOnUse" x1="134.7" x2="797" y1="0" y2="0"><stop offset="0" stop-color="#08acee"/><stop offset=".0128" stop-color="#18cde4"/><stop offset=".0256" stop-color="#3ae8d6"/><stop offset=".0513" stop-color="#54f6cb"/><stop offset=".0769" stop-color="#5af8c8"/><stop offset=".1026" stop-color="#5df9c7"/><stop offset=".8974" stop-color="#5df9c7"/><stop offset=".9231" stop-color="#5af8c8"/><stop offset=".9487" stop-color="#54f6cb"/><stop offset=".9744" stop-color="#3ae8d6"/><stop offset=".9829" stop-color="#24d8df"/><stop offset=".9915" stop-color="#0fc4e7"/><stop offset="1" stop-color="#08acee"/></linearGradient>
<linearGradient id="g34" gradientUnits="userSpaceOnUse" x1="134.7" x2="797" y1="0" y2="0"><stop offset="0" stop-color="#06aeed"/><stop offset=".0085" stop-color="#10c6e6"/><stop offset=".0171" stop-color="#27dade"/><stop offset=".0256" stop-color="#3febd5"/><stop offset=".0513" stop-color="#58f8c9"/><stop offset=".0769" stop-color="#5efac6"/><stop offset=".1026" stop-color="#60fac5"/><stop offset=".8974" stop-color="#60fac5"/><stop offset=".9231" stop-color="#5efac6"/><stop offset=".9487" stop-color="#58f8c9"/><stop offset=".9744" stop-color="#3febd5"/><stop offset=".9829" stop-color="#27dade"/><stop offset=".9915" stop-color="#10c6e6"/><stop offset="1" stop-color="#06aeed"/></linearGradient>
<linearGradient id="g35" gradientUnits="userSpaceOnUse" x1="134.7" x2="797" y1="0" y2="0"><stop offset="0" stop-color="#04b0ed"/><stop offset=".0085" stop-color="#14cae5"/><stop offset=".0171" stop-color="#2adddd"/><stop offset=".0256" stop-color="#42edd3"/><stop offset=".0513" stop-color="#5efac6"/><stop offset=".0769" stop-color="#62fbc4"/><stop offset=".1026" stop-color="#66fcc2"/><stop offset=".8974" stop-color="#66fcc2"/><stop offset=".9231" stop-color="#62fbc4"/><stop offset=".9487" stop-color="#5efac6"/><stop offset=".9744" stop-color="#42edd3"/><stop offset=".9829" stop-color="#2adddd"/><stop offset=".9915" stop-color="#12c8e6"/><stop offset="1" stop-color="#06aeed"/></linearGradient>
<linearGradient id="g36" gradientUnits="userSpaceOnUse" x1="134.7" x2="797" y1="0" y2="0"><stop offset="0" stop-color="#01b3ec"/><stop offset=".0085" stop-color="#17cbe4"/><stop offset=".0171" stop-color="#30e1da"/><stop offset=".0256" stop-color="#48f1d0"/><stop offset=".0513" stop-color="#62fbc4"/><stop offset=".0769" stop-color="#68fcc1"/><stop offset=".1026" stop-color="#6afdc0"/><stop offset=".8974" stop-color="#6afdc0"/><stop offset=".9231" stop-color="#68fcc1"/><stop offset=".9487" stop-color="#62fbc4"/><stop offset=".9744" stop-color="#48f1d0"/><stop offset=".9829" stop-color="#2fe0db"/><stop offset=".9915" stop-color="#17cbe4"/><stop offset="1" stop-color="#04b0ed"/></linearGradient>
<linearGradient id="g37" gradientUnits="userSpaceOnUse" x1="134.7" x2="797" y1="0" y2="0"><stop offset="0" stop-color="#00b5eb"/><stop offset=".0085" stop-color="#1acfe3"/><stop offset=".0171" stop-color="#34e4d9"/><stop offset=".0256" stop-color="#4df3ce"/><stop offset=".0513" stop-color="#68fcc1"/><stop offset=".0769" stop-color="#6efebe"/><stop offset=".1026" stop-color="#70febc"/><stop offset=".8974" stop-color="#70febc"/><stop offset=".9231" stop-color="#6efebe"/><stop offset=".9487" stop-color="#68fcc1"/><stop offset=".9744" stop-color="#4df3ce"/><stop offset=".9829" stop-color="#32e3da"/><stop offset=".9915" stop-color="#18cde4"/><stop offset="1" stop-color="#01b3ec"/></linearGradient>
<linearGradient id="g38" gradientUnits="userSpaceOnUse" x1="134.7" x2="797" y1="0" y2="0"><stop offset="0" stop-color="#02b7eb"/><stop offset=".0085" stop-color="#1dd1e2"/><stop offset=".0171" stop-color="#38e7d7"/><stop offset=".0256" stop-color="#52f5cb"/><stop offset=".0513" stop-color="#6efebe"/><stop offset=".0769" stop-color="#74feba"/><stop offset=".1026" stop-color="#76ffb9"/><stop offset=".8974" stop-color="#76ffb9"/><stop offset=".9231" stop-color="#74feba"/><stop offset=".9487" stop-color="#6efebe"/><stop offset=".9744" stop-color="#52f5cb"/><stop offset=".9829" stop-color="#38e7d7"/><stop offset=".9915" stop-color="#1dd1e2"/><stop offset="1" stop-color="#00b5eb"/></linearGradient>
<linearGradient id="g39" gradientUnits="userSpaceOnUse" x1="134.7" x2="797" y1="0" y2="0"><stop offset="0" stop-color="#04b9ea"/><stop offset=".0085" stop-color="#20d5e1"/><stop offset=".0171" stop-color="#3dead5"/><stop offset=".0256" stop-color="#58f8c9"/><stop offset=".0513" stop-color="#74feba"/><stop offset=".0769" stop-color="#7affb7"/><stop offset=".1026" stop-color="#7dffb6"/><stop offset=".8974" stop-color="#7dffb6"/><stop offset=".9231" stop-color="#7affb7"/><stop offset=".9487" stop-color="#74feba"/><stop offset=".9744" stop-color="#58f8c9"/><stop offset=".9829" stop-color="#3dead5"/><stop offset=".9915" stop-color="#1fd3e1"/><stop offset="1" stop-color="#02b7eb"/></linearGradient>
<linearGradient id="g40" gradientUnits="userSpaceOnUse" x1="134.7" x2="797" y1="0" y2="0"><stop offset="0" stop-color="#07bbea"/><stop offset=".0085" stop-color="#24d8df"/><stop offset=".0171" stop-color="#42edd3"/><stop offset=".0256" stop-color="#60fac5"/><stop offset=".0513" stop-color="#7affb7"/><stop offset=".0769" stop-color="#80ffb4"/><stop offset=".1026" stop-color="#82ffb3"/><stop offset=".8974" stop-color="#82ffb3"/><stop offset=".9231" stop-color="#80ffb4"/><stop offset=".9487" stop-color="#7affb7"/><stop offset=".9744" stop-color="#60fac5"/><stop offset=".9829" stop-color="#40ecd4"/><stop offset=".9915" stop-color="#22d6e0"/><stop offset="1" stop-color="#04b9ea"/></linearGradient>
<linearGradient id="g41" gradientUnits="userSpaceOnUse" x1="134.7" x2="797" y1="0" y2="0"><stop offset="0" stop-color="#0ac0e8"/><stop offset=".0085" stop-color="#28dbde"/><stop offset=".0171" stop-color="#48f1d0"/><stop offset=".0256" stop-color="#66fcc2"/><stop offset=".0513" stop-color="#82ffb3"/><stop offset=".0769" stop-color="#88ffaf"/><stop offset=".1026" stop-color="#8bfeae"/><stop offset=".8974" stop-color="#8bfeae"/><stop offset=".9231" stop-color="#88ffaf"/><stop offset=".9487" stop-color="#82ffb3"/><stop offset=".9744" stop-color="#66fcc2"/><stop offset=".9829" stop-color="#46efd1"/><stop offset=".9915" stop-color="#27dade"/><stop offset="1" stop-color="#07bbea"/></linearGradient>
<linearGradient id="g42" gradientUnits="userSpaceOnUse" x1="134.7" x2="797" y1="0" y2="0"><stop offset="0" stop-color="#0dc2e8"/><stop offset=".0064" stop-color="#27dade"/><stop offset=".0128" stop-color="#3febd5"/><stop offset=".0192" stop-color="#56f7ca"/><stop offset=".0256" stop-color="#6efebe"/><stop offset=".0513" stop-color="#8bfeae"/><stop offset=".0769" stop-color="#90feab"/><stop offset=".1026" stop-color="#92fda9"/><stop offset=".8974" stop-color="#92fda9"/><stop offset=".9231" stop-color="#90feab"/><stop offset=".9487" stop-color="#8bfeae"/><stop offset=".9744" stop-color="#6efebe"/><stop offset=".9808" stop-color="#56f7ca"/><stop offset=".9872" stop-color="#3dead5"/><stop offset=".9936" stop-color="#22d6e0"/><stop offset="1" stop-color="#08bee9"/></linearGradient>
<linearGradient id="g43" gradientUnits="userSpaceOnUse" x1="134.7" x2="797" y1="0" y2="0"><stop offset="0" stop-color="#10c6e6"/><stop offset=".0064" stop-color="#2adddd"/><stop offset=".0128" stop-color="#44eed2"/><stop offset=".0192" stop-color="#5efac6"/><stop offset=".0256" stop-color="#76ffb9"/><stop offset=".0513" stop-color="#94fda8"/><stop offset=".0769" stop-color="#99fca6"/><stop offset=".1026" stop-color="#9bfba5"/><stop offset=".8974" stop-color="#9bfba5"/><stop offset=".9231" stop-color="#99fca6"/><stop offset=".9487" stop-color="#94fda8"/><stop offset=".9744" stop-color="#76ffb9"/><stop offset=".9808" stop-color="#5df9c7"/><stop offset=".9872" stop-color="#40ecd4"/><stop offset=".9936" stop-color="#27dade"/><stop offset="1" stop-color="#0ac0e8"/></linearGradient>
<linearGradient id="g44" gradientUnits="userSpaceOnUse" x1="134.7" x2="797" y1="0" y2="0"><stop offset="0" stop-color="#17cbe4"/><stop offset=".0064" stop-color="#30e1da"/><stop offset=".0128" stop-color="#4df3ce"/><stop offset=".0192" stop-color="#66fcc2"/><stop offset=".0256" stop-color="#80ffb4"/><stop offset=".0513" stop-color="#9efaa2"/><stop offset=".0769" stop-color="#a2f9a0"/><stop offset=".1026" stop-color="#a4f89f"/><stop offset=".8974" stop-color="#a4f89f"/><stop offset=".9231" stop-color="#a2f9a0"/><stop offset=".9487" stop-color="#9efaa2"/><stop offset=".9744" stop-color="#80ffb4"/><stop offset=".9808" stop-color="#64fbc3"/><stop offset=".9872" stop-color="#48f1d0"/><stop offset=".9936" stop-color="#2adddd"/><stop offset="1" stop-color="#0fc4e7"/></linearGradient>
<linearGradient id="g45" gradientUnits="userSpaceOnUse" x1="134.7" x2="797" y1="0" y2="0"><stop offset="0" stop-color="#1dd1e2"/><stop offset=".0064" stop-color="#38e7d7"/><stop offset=".0128" stop-color="#52f5cb"/><stop offset=".0192" stop-color="#6efebe"/><stop offset=".0256" stop-color="#8bfeae"/><stop offset=".0513" stop-color="#a8f79c"/><stop offset=".0769" stop-color="#acf59a"/><stop offset=".1026" stop-color="#aef498"/><stop offset=".8974" stop-color="#aef498"/><stop offset=".9231" stop-color="#acf59a"/><stop offset=".9487" stop-color="#a8f79c"/><stop offset=".9744" stop-color="#8bfeae"/><stop offset=".9808" stop-color="#6dfdbf"/><stop offset=".9872" stop-color="#4ef3cd"/><stop offset=".9936" stop-color="#30e1da"/><stop offset="1" stop-color="#12c8e6"/></linearGradient>
<linearGradient id="g46" gradientUnits="userSpaceOnUse" x1="134.7" x2="797" y1="0" y2="0"><stop offset="0" stop-color="#22d6e0"/><stop offset=".0064" stop-color="#3febd5"/><stop offset=".0128" stop-color="#5af8c8"/><stop offset=".0192" stop-color="#78ffb8"/><stop offset=".0256" stop-color="#94fda8"/><stop offset=".0513" stop-color="#b2f396"/><stop offset=".0769" stop-color="#b6f193"/><stop offset=".1026" stop-color="#b9ef92"/><stop offset=".8974" stop-color="#b9ef92"/><stop offset=".9231" stop-color="#b6f193"/><stop offset=".9487" stop-color="#b2f396"/><stop offset=".9744" stop-color="#94fda8"/><stop offset=".9808" stop-color="#74feba"/><stop offset=".9872" stop-color="#54f6cb"/><stop offset=".9936" stop-color="#34e4d9"/><stop offset="1" stop-color="#14cae5"/></linearGradient>
<linearGradient id="g47" gradientUnits="userSpaceOnUse" x1="134.7" x2="797" y1="0" y2="0"><stop offset="0" stop-color="#2adddd"/><stop offset=".0064" stop-color="#48f1d0"/><stop offset=".0128" stop-color="#64fbc3"/><stop offset=".0192" stop-color="#82ffb3"/><stop offset=".0256" stop-color="#a0faa1"/><stop offset=".0513" stop-color="#beec8e"/><stop offset=".0769" stop-color="#c2ea8c"/><stop offset=".1026" stop-color="#c4e88a"/><stop offset=".8974" stop-color="#c4e88a"/><stop offset=".9231" stop-color="#c2ea8c"/><stop offset=".9487" stop-color="#beec8e"/><stop offset=".9744" stop-color="#a0faa1"/><stop offset=".9795" stop-color="#84ffb2"/><stop offset=".9846" stop-color="#6afdc0"/><stop offset=".9897" stop-color="#4ef3cd"/><stop offset=".9949" stop-color="#34e4d9"/><stop offset="1" stop-color="#1acfe3"/></linearGradient>
<linearGradient id="g48" gradientUnits="userSpaceOnUse" x1="134.7" x2="797" y1="0" y2="0"><stop offset="0" stop-color="#32e3da"/><stop offset=".0064" stop-color="#50f4cc"/><stop offset=".0128" stop-color="#6efebe"/><stop offset=".0192" stop-color="#8efeac"/><stop offset=".0256" stop-color="#acf59a"/><stop offset=".0513" stop-color="#cbe486"/><stop offset=".0769" stop-color="#cee184"/><stop offset=".1026" stop-color="#d0e082"/><stop offset=".8974" stop-color="#d0e082"/><stop offset=".9231" stop-color="#cee184"/><stop offset=".9487" stop-color="#cbe486"/><stop offset=".9744" stop-color="#acf59a"/><stop offset=".9795" stop-color="#90feab"/><stop offset=".9846" stop-color="#74feba"/><stop offset=".9897" stop-color="#56f7ca"/><stop offset=".9949" stop-color="#3ae8d6"/><stop offset="1" stop-color="#1fd3e1"/></linearGradient>
<linearGradient id="g49" gradientUnits="userSpaceOnUse" x1="134.7" x2="797" y1="0" y2="0"><stop offset="0" stop-color="#3ae8d6"/><stop offset=".0064" stop-color="#5af8c8"/><stop offset=".0128" stop-color="#7affb7"/><stop offset=".0192" stop-color="#99fca6"/><stop offset=".0256" stop-color="#b9ef92"/><stop offset=".0513" stop-color="#d6db7e"/><stop offset=".0769" stop-color="#dbd87b"/><stop offset=".1026" stop-color="#dcd67a"/><stop offset=".8974" stop-color="#dcd67a"/><stop offset=".9231" stop-color="#dbd87b"/><stop offset=".9487" stop-color="#d6db7e"/><stop offset=".9744" stop-color="#b9ef92"/><stop offset=".9795" stop-color="#9bfba5"/><stop offset=".9846" stop-color="#7dffb6"/><stop offset=".9897" stop-color="#5efac6"/><stop offset=".9949" stop-color="#40ecd4"/><stop offset="1" stop-color="#22d6e0"/></linearGradient>
<linearGradient id="g50" gradientUnits="userSpaceOnUse" x1="134.7" x2="797" y1="0" y2="0"><stop offset="0" stop-color="#44eed2"/><stop offset=".0051" stop-color="#60fac5"/><stop offset=".0103" stop-color="#7affb7"/><stop offset=".0154" stop-color="#94fda8"/><stop offset=".0205" stop-color="#b0f397"/><stop offset=".0256" stop-color="#cbe486"/><stop offset=".0513" stop-color="#e6cd73"/><stop offset=".0769" stop-color="#ebca70"/><stop offset=".1026" stop-color="#ecc86f"/><stop offset=".8974" stop-color="#ecc86f"/><stop offset=".9231" stop-color="#ebca70"/><stop offset=".9487" stop-color="#e6cd73"/><stop offset=".9744" stop-color="#cbe486"/><stop offset=".9795" stop-color="#abf69b"/><stop offset=".9846" stop-color="#8bfeae"/><stop offset=".9897" stop-color="#6afdc0"/><stop offset=".9949" stop-color="#4af2cf"/><stop offset="1" stop-color="#2adddd"/></linearGradient>
<linearGradient id="g51" gradientUnits="userSpaceOnUse" x1="134.7" x2="797" y1="0" y2="0"><stop offset="0" stop-color="#4ef3cd"/><stop offset=".0051" stop-color="#6dfdbf"/><stop offset=".0103" stop-color="#88ffaf"/><stop offset=".0154" stop-color="#a4f89f"/><stop offset=".0205" stop-color="#c2ea8c"/><stop offset=".0256" stop-color="#ded579"/><stop offset=".0513" stop-color="#f6be68"/><stop offset=".1026" stop-color="#fcb763"/><stop offset=".8974" stop-color="#fcb763"/><stop offset=".9487" stop-color="#f6be68"/><stop offset=".9744" stop-color="#ded579"/><stop offset=".9786" stop-color="#c2ea8c"/><stop offset=".9829" stop-color="#a6f89d"/><stop offset=".9872" stop-color="#88ffaf"/><stop offset=".9915" stop-color="#6dfdbf"/><stop offset=".9957" stop-color="#50f4cc"/><stop offset="1" stop-color="#34e4d9"/></linearGradient>
<linearGradient id="g52" gradientUnits="userSpaceOnUse" x1="134.7" x2="797" y1="0" y2="0"><stop offset="0" stop-color="#58f8c9"/><stop offset=".0051" stop-color="#76ffb9"/><stop offset=".0103" stop-color="#96fca7"/><stop offset=".0154" stop-color="#b4f295"/><stop offset=".0205" stop-color="#d2de81"/><stop offset=".0256" stop-color="#f2c26b"/><stop offset=".0513" stop-color="#ffac5c"/><stop offset=".1026" stop-color="#ffa759"/><stop offset=".8974" stop-color="#ffa759"/><stop offset=".9487" stop-color="#ffac5c"/><stop offset=".9744" stop-color="#f0c46c"/><stop offset=".9786" stop-color="#d2de81"/><stop offset=".9829" stop-color="#b4f295"/><stop offset=".9872" stop-color="#96fca7"/><stop offset=".9915" stop-color="#78ffb8"/><stop offset=".9957" stop-color="#5af8c8"/><stop offset="1" stop-color="#3dead5"/></linearGradient>
<linearGradient id="g53" gradientUnits="userSpaceOnUse" x1="134.7" x2="797" y1="0" y2="0"><stop offset="0" stop-color="#5af8c8"/><stop offset=".0051" stop-color="#7affb7"/><stop offset=".0103" stop-color="#9cfba4"/><stop offset=".0154" stop-color="#bced8f"/><stop offset=".0205" stop-color="#dcd67a"/><stop offset=".0256" stop-color="#feb562"/><stop offset=".0513" stop-color="#ff964f"/><stop offset=".1026" stop-color="#ff8e4a"/><stop offset=".8974" stop-color="#ff8e4a"/><stop offset=".9487" stop-color="#ff9850"/><stop offset=".9744" stop-color="#ffb360"/><stop offset=".9786" stop-color="#e0d377"/><stop offset=".9829" stop-color="#c0eb8d"/><stop offset=".9872" stop-color="#a2f9a0"/><stop offset=".9915" stop-color="#82ffb3"/><stop offset=".9957" stop-color="#64fbc3"/><stop offset="1" stop-color="#44eed2"/></linearGradient>
<linearGradient id="g54" gradientUnits="userSpaceOnUse" x1="134.7" x2="797" y1="0" y2="0"><stop offset="0" stop-color="#5df9c7"/><stop offset=".0043" stop-color="#7affb7"/><stop offset=".0085" stop-color="#96fca7"/><stop offset=".0128" stop-color="#b4f295"/><stop offset=".0171" stop-color="#d0e082"/><stop offset=".0214" stop-color="#ecc86f"/><stop offset=".0256" stop-color="#ffa759"/><stop offset=".0513" stop-color="#ff7e41"/><stop offset=".1026" stop-color="#ff763d"/><stop offset=".8974" stop-color="#ff763d"/><stop offset=".9487" stop-color="#ff8143"/><stop offset=".9744" stop-color="#ffa256"/><stop offset=".9786" stop-color="#eec66d"/><stop offset=".9829" stop-color="#cee184"/><stop offset=".9872" stop-color="#aef498"/><stop offset=".9915" stop-color="#8cfead"/><stop offset=".9957" stop-color="#6dfdbf"/><stop offset="1" stop-color="#4df3ce"/></linearGradient>
<linearGradient id="g55" gradientUnits="userSpaceOnUse" x1="134.7" x2="797" y1="0" y2="0"><stop offset="0" stop-color="#5efac6"/><stop offset=".0043" stop-color="#7dffb6"/><stop offset=".0085" stop-color="#9cfba4"/><stop offset=".0128" stop-color="#bbee91"/><stop offset=".0171" stop-color="#d9da7d"/><stop offset=".0214" stop-color="#f9bb66"/><stop offset=".0256" stop-color="#ff9850"/><stop offset=".0385" stop-color="#ff8143"/><stop offset=".0513" stop-color="#ff6835"/><stop offset=".0769" stop-color="#ff6232"/><stop offset=".1026" stop-color="#ff592d"/><stop offset=".8974" stop-color="#ff592d"/><stop offset=".9487" stop-color="#ff6b37"/><stop offset=".9744" stop-color="#ff8e4a"/><stop offset=".978" stop-color="#ffb360"/><stop offset=".9817" stop-color="#e4cf74"/><stop offset=".9853" stop-color="#c6e789"/><stop offset=".989" stop-color="#abf69b"/><stop offset=".9927" stop-color="#8efeac"/><stop offset=".9963" stop-color="#70febc"/><stop offset="1" stop-color="#54f6cb"/></linearGradient>
<linearGradient id="cbb" x1="0" x2="0" y1="1" y2="0"><stop offset="0" stop-color="#8000ff"/><stop offset="0.02" stop-color="#7610ff"/><stop offset="0.04" stop-color="#6c1fff"/><stop offset="0.06" stop-color="#6032fe"/><stop offset="0.08" stop-color="#5641fd"/><stop offset="0.1" stop-color="#4c50fc"/><stop offset="0.12" stop-color="#4062fa"/><stop offset="0.15" stop-color="#3670f8"/><stop offset="0.17" stop-color="#2c7ef7"/><stop offset="0.19" stop-color="#208ef4"/><stop offset="0.21" stop-color="#169bf2"/><stop offset="0.23" stop-color="#0ca7ef"/><stop offset="0.25" stop-color="#00b5eb"/><stop offset="0.27" stop-color="#0ac0e8"/><stop offset="0.29" stop-color="#14cae5"/><stop offset="0.31" stop-color="#20d5e1"/><stop offset="0.33" stop-color="#2adddd"/><stop offset="0.35" stop-color="#34e4d9"/><stop offset="0.38" stop-color="#40ecd4"/><stop offset="0.4" stop-color="#4af2cf"/><stop offset="0.42" stop-color="#54f6cb"/><stop offset="0.44" stop-color="#60fac5"/><stop offset="0.46" stop-color="#6afdc0"/><stop offset="0.48" stop-color="#74feba"/><stop offset="0.5" stop-color="#80ffb4"/><stop offset="0.52" stop-color="#8bfeae"/><stop offset="0.54" stop-color="#94fda8"/><stop offset="0.56" stop-color="#a0faa1"/><stop offset="0.58" stop-color="#abf69b"/><stop offset="0.6" stop-color="#b4f295"/><stop offset="0.62" stop-color="#c0eb8d"/><stop offset="0.65" stop-color="#cbe486"/><stop offset="0.67" stop-color="#d4dd80"/><stop offset="0.69" stop-color="#e0d377"/><stop offset="0.71" stop-color="#ebca70"/><stop offset="0.73" stop-color="#f4c069"/><stop offset="0.75" stop-color="#ffb360"/><stop offset="0.77" stop-color="#ffa759"/><stop offset="0.79" stop-color="#ff9b52"/><stop offset="0.81" stop-color="#ff8c49"/><stop offset="0.83" stop-color="#ff7e41"/><stop offset="0.85" stop-color="#ff703a"/><stop offset="0.88" stop-color="#ff5f30"/><stop offset="0.9" stop-color="#ff5029"/><stop offset="0.92" stop-color="#ff4121"/><stop offset="0.94" stop-color="#ff2f18"/><stop offset="0.96" stop-color="#ff1f10"/><stop offset="0.98" stop-color="#ff1008"/><stop offset="1" stop-color="#ff0000"/></linearGradient>
<clipPath id="cc"><rect x="122" y="1376" width="677.4" height="543.2"/></clipPath>
<linearGradient id="g56" gradientUnits="userSpaceOnUse" x1="122" x2="799.4" y1="0" y2="0"><stop offset="0" stop-color="#08bee9"/><stop offset=".0085" stop-color="#24d8df"/><stop offset=".0171" stop-color="#40ecd4"/><stop offset=".0256" stop-color="#5efac6"/><stop offset=".0385" stop-color="#74feba"/><stop offset=".0513" stop-color="#8bfeae"/><stop offset=".0769" stop-color="#92fda9"/><stop offset=".1282" stop-color="#96fca7"/><stop offset=".8718" stop-color="#96fca7"/><stop offset=".9231" stop-color="#92fda9"/><stop offset=".9487" stop-color="#8bfeae"/><stop offset=".9615" stop-color="#74feba"/><stop offset=".9744" stop-color="#5efac6"/><stop offset=".9829" stop-color="#40ecd4"/><stop offset=".9915" stop-color="#24d8df"/><stop offset="1" stop-color="#08bee9"/></linearGradient>
<linearGradient id="g57" gradientUnits="userSpaceOnUse" x1="122" x2="799.4" y1="0" y2="0"><stop offset="0" stop-color="#04b9ea"/><stop offset=".0085" stop-color="#22d6e0"/><stop offset=".0171" stop-color="#3febd5"/><stop offset=".0256" stop-color="#5df9c7"/><stop offset=".0385" stop-color="#70febc"/><stop offset=".0513" stop-color="#84ffb2"/><stop offset=".0769" stop-color="#8efeac"/><stop offset=".1282" stop-color="#90feab"/><stop offset=".8718" stop-color="#90feab"/><stop offset=".9231" stop-color="#8efeac"/><stop offset=".9487" stop-color="#84ffb2"/><stop offset=".9615" stop-color="#70febc"/><stop offset=".9744" stop-color="#5df9c7"/><stop offset=".9829" stop-color="#3febd5"/><stop offset=".9915" stop-color="#22d6e0"/><stop offset="1" stop-color="#04b9ea"/></linearGradient>
<linearGradient id="g58" gradientUnits="userSpaceOnUse" x1="122" x2="799.4" y1="0" y2="0"><stop offset="0" stop-color="#02b7eb"/><stop offset=".0085" stop-color="#20d5e1"/><stop offset=".0171" stop-color="#3dead5"/><stop offset=".0256" stop-color="#5af8c8"/><stop offset=".0385" stop-color="#6dfdbf"/><stop offset=".0513" stop-color="#7effb5"/><stop offset=".0769" stop-color="#88ffaf"/><stop offset=".1282" stop-color="#8bfeae"/><stop offset=".8718" stop-color="#8bfeae"/><stop offset=".9231" stop-color="#88ffaf"/><stop offset=".9487" stop-color="#7effb5"/><stop offset=".9615" stop-color="#6dfdbf"/><stop offset=".9744" stop-color="#5af8c8"/><stop offset=".9829" stop-color="#3dead5"/><stop offset=".9915" stop-color="#20d5e1"/><stop offset="1" stop-color="#02b7eb"/></linearGradient>
<linearGradient id="g59" gradientUnits="userSpaceOnUse" x1="122" x2="799.4" y1="0" y2="0"><stop offset="0" stop-color="#00b5eb"/><stop offset=".0085" stop-color="#1dd1e2"/><stop offset=".0171" stop-color="#3ae8d6"/><stop offset=".0256" stop-color="#58f8c9"/><stop offset=".0385" stop-color="#68fcc1"/><stop offset=".0513" stop-color="#78ffb8"/><stop offset=".0769" stop-color="#82ffb3"/><stop offset=".1282" stop-color="#86ffb0"/><stop offset=".8718" stop-color="#86ffb0"/><stop offset=".9231" stop-color="#82ffb3"/><stop offset=".9487" stop-color="#78ffb8"/><stop offset=".9615" stop-color="#68fcc1"/><stop offset=".9744" stop-color="#58f8c9"/><stop offset=".9829" stop-color="#3ae8d6"/><stop offset=".9915" stop-color="#1dd1e2"/><stop offset="1" stop-color="#00b5eb"/></linearGradient>
<linearGradient id="g60" gradientUnits="userSpaceOnUse" x1="122" x2="799.4" y1="0" y2="0"><stop offset="0" stop-color="#04b0ed"/><stop offset=".0085" stop-color="#1acfe3"/><stop offset=".0171" stop-color="#38e7d7"/><stop offset=".0256" stop-color="#54f6cb"/><stop offset=".0513" stop-color="#74feba"/><stop offset=".0769" stop-color="#7dffb6"/><stop offset=".1282" stop-color="#80ffb4"/><stop offset=".8718" stop-color="#80ffb4"/><stop offset=".9231" stop-color="#7dffb6"/><stop offset=".9487" stop-color="#74feba"/><stop offset=".9744" stop-color="#54f6cb"/><stop offset=".9829" stop-color="#38e7d7"/><stop offset=".9915" stop-color="#1acfe3"/><stop offset="1" stop-color="#04b0ed"/></linearGradient>
<linearGradient id="g61" gradientUnits="userSpaceOnUse" x1="122" x2="799.4" y1="0" y2="0"><stop offset="0" stop-color="#06aeed"/><stop offset=".0085" stop-color="#17cbe4"/><stop offset=".0171" stop-color="#34e4d9"/><stop offset=".0256" stop-color="#50f4cc"/><stop offset=".0513" stop-color="#6efebe"/><stop offset=".0769" stop-color="#76ffb9"/><stop offset=".1282" stop-color="#78ffb8"/><stop offset=".8718" stop-color="#78ffb8"/><stop offset=".9231" stop-color="#76ffb9"/><stop offset=".9487" stop-color="#6efebe"/><stop offset=".9744" stop-color="#50f4cc"/><stop offset=".9829" stop-color="#34e4d9"/><stop offset=".9915" stop-color="#17cbe4"/><stop offset="1" stop-color="#06aeed"/></linearGradient>
<linearGradient id="g62" gradientUnits="userSpaceOnUse" x1="122" x2="799.4" y1="0" y2="0"><stop offset="0" stop-color="#09a9ee"/><stop offset=".0085" stop-color="#14cae5"/><stop offset=".0171" stop-color="#30e1da"/><stop offset=".0256" stop-color="#4ef3cd"/><stop offset=".0513" stop-color="#6afdc0"/><stop offset=".0769" stop-color="#70febc"/><stop offset=".1282" stop-color="#72febb"/><stop offset=".8718" stop-color="#72febb"/><stop offset=".9231" stop-color="#70febc"/><stop offset=".9487" stop-color="#6afdc0"/><stop offset=".9744" stop-color="#4ef3cd"/><stop offset=".9829" stop-color="#30e1da"/><stop offset=".9915" stop-color="#14cae5"/><stop offset="1" stop-color="#09a9ee"/></linearGradient>
<linearGradient id="g63" gradientUnits="userSpaceOnUse" x1="122" x2="799.4" y1="0" y2="0"><stop offset="0" stop-color="#0ca7ef"/><stop offset=".0085" stop-color="#10c6e6"/><stop offset=".0171" stop-color="#2ddedc"/><stop offset=".0256" stop-color="#4af2cf"/><stop offset=".0513" stop-color="#64fbc3"/><stop offset=".0769" stop-color="#6afdc0"/><stop offset=".1282" stop-color="#6dfdbf"/><stop offset=".8718" stop-color="#6dfdbf"/><stop offset=".9231" stop-color="#6afdc0"/><stop offset=".9487" stop-color="#64fbc3"/><stop offset=".9744" stop-color="#4af2cf"/><stop offset=".9829" stop-color="#2ddedc"/><stop offset=".9915" stop-color="#10c6e6"/><stop offset="1" stop-color="#0ca7ef"/></linearGradient>
<linearGradient id="g64" gradientUnits="userSpaceOnUse" x1="122" x2="799.4" y1="0" y2="0"><stop offset="0" stop-color="#10a2f0"/><stop offset=".0085" stop-color="#0dc2e8"/><stop offset=".0171" stop-color="#28dbde"/><stop offset=".0256" stop-color="#44eed2"/><stop offset=".0513" stop-color="#5efac6"/><stop offset=".0769" stop-color="#64fbc3"/><stop offset=".1282" stop-color="#66fcc2"/><stop offset=".8718" stop-color="#66fcc2"/><stop offset=".9231" stop-color="#64fbc3"/><stop offset=".9487" stop-color="#5efac6"/><stop offset=".9744" stop-color="#44eed2"/><stop offset=".9829" stop-color="#28dbde"/><stop offset=".9915" stop-color="#0dc2e8"/><stop offset="1" stop-color="#10a2f0"/></linearGradient>
<linearGradient id="g65" gradientUnits="userSpaceOnUse" x1="122" x2="799.4" y1="0" y2="0"><stop offset="0" stop-color="#149df1"/><stop offset=".0085" stop-color="#08bee9"/><stop offset=".0171" stop-color="#24d8df"/><stop offset=".0256" stop-color="#40ecd4"/><stop offset=".0513" stop-color="#58f8c9"/><stop offset=".0769" stop-color="#5df9c7"/><stop offset=".1282" stop-color="#5efac6"/><stop offset=".8718" stop-color="#5efac6"/><stop offset=".9231" stop-color="#5df9c7"/><stop offset=".9487" stop-color="#58f8c9"/><stop offset=".9744" stop-color="#40ecd4"/><stop offset=".9829" stop-color="#24d8df"/><stop offset=".9915" stop-color="#08bee9"/><stop offset="1" stop-color="#149df1"/></linearGradient>
<linearGradient id="g66" gradientUnits="userSpaceOnUse" x1="122" x2="799.4" y1="0" y2="0"><stop offset="0" stop-color="#1898f2"/><stop offset=".0085" stop-color="#04b9ea"/><stop offset=".0171" stop-color="#20d5e1"/><stop offset=".0256" stop-color="#3ae8d6"/><stop offset=".0513" stop-color="#50f4cc"/><stop offset=".0769" stop-color="#56f7ca"/><stop offset=".1282" stop-color="#56f7ca"/><stop offset=".8718" stop-color="#56f7ca"/><stop offset=".9231" stop-color="#56f7ca"/><stop offset=".9487" stop-color="#50f4cc"/><stop offset=".9744" stop-color="#3ae8d6"/><stop offset=".9829" stop-color="#20d5e1"/><stop offset=".9915" stop-color="#04b9ea"/><stop offset="1" stop-color="#1898f2"/></linearGradient>
<linearGradient id="g67" gradientUnits="userSpaceOnUse" x1="122" x2="799.4" y1="0" y2="0"><stop offset="0" stop-color="#1996f3"/><stop offset=".0085" stop-color="#00b5eb"/><stop offset=".0171" stop-color="#1acfe3"/><stop offset=".0256" stop-color="#34e4d9"/><stop offset=".0513" stop-color="#4af2cf"/><stop offset=".0769" stop-color="#4ef3cd"/><stop offset=".1282" stop-color="#50f4cc"/><stop offset=".8718" stop-color="#50f4cc"/><stop offset=".9231" stop-color="#4ef3cd"/><stop offset=".9487" stop-color="#4af2cf"/><stop offset=".9744" stop-color="#34e4d9"/><stop offset=".9829" stop-color="#1acfe3"/><stop offset=".9915" stop-color="#00b5eb"/><stop offset="1" stop-color="#1996f3"/></linearGradient>
<linearGradient id="g68" gradientUnits="userSpaceOnUse" x1="122" x2="799.4" y1="0" y2="0"><stop offset="0" stop-color="#1e91f3"/><stop offset=".0085" stop-color="#04b0ed"/><stop offset=".0171" stop-color="#14cae5"/><stop offset=".0256" stop-color="#2fe0db"/><stop offset=".0513" stop-color="#42edd3"/><stop offset=".0769" stop-color="#46efd1"/><stop offset=".1282" stop-color="#48f1d0"/><stop offset=".8718" stop-color="#48f1d0"/><stop offset=".9231" stop-color="#46efd1"/><stop offset=".9487" stop-color="#42edd3"/><stop offset=".9744" stop-color="#2fe0db"/><stop offset=".9829" stop-color="#14cae5"/><stop offset=".9915" stop-color="#04b0ed"/><stop offset="1" stop-color="#1e91f3"/></linearGradient>
<linearGradient id="g69" gradientUnits="userSpaceOnUse" x1="122" x2="799.4" y1="0" y2="0"><stop offset="0" stop-color="#218cf4"/><stop offset=".0085" stop-color="#09a9ee"/><stop offset=".0171" stop-color="#10c6e6"/><stop offset=".0256" stop-color="#28dbde"/><stop offset=".0513" stop-color="#3ae8d6"/><stop offset=".0769" stop-color="#3febd5"/><stop offset=".1282" stop-color="#40ecd4"/><stop offset=".8718" stop-color="#40ecd4"/><stop offset=".9231" stop-color="#3febd5"/><stop offset=".9487" stop-color="#3ae8d6"/><stop offset=".9744" stop-color="#28dbde"/><stop offset=".9829" stop-color="#10c6e6"/><stop offset=".9915" stop-color="#09a9ee"/><stop offset="1" stop-color="#218cf4"/></linearGradient>
<linearGradient id="g70" gradientUnits="userSpaceOnUse" x1="122" x2="799.4" y1="0" y2="0"><stop offset="0" stop-color="#2686f5"/><stop offset=".0085" stop-color="#0ea5ef"/><stop offset=".0171" stop-color="#0ac0e8"/><stop offset=".0256" stop-color="#22d6e0"/><stop offset=".0513" stop-color="#32e3da"/><stop offset=".0769" stop-color="#37e6d8"/><stop offset=".1282" stop-color="#38e7d7"/><stop offset=".8718" stop-color="#38e7d7"/><stop offset=".9231" stop-color="#37e6d8"/><stop offset=".9487" stop-color="#32e3da"/><stop offset=".9744" stop-color="#22d6e0"/><stop offset=".9829" stop-color="#0ac0e8"/><stop offset=".9915" stop-color="#0ea5ef"/><stop offset="1" stop-color="#2686f5"/></linearGradient>
<linearGradient id="g71" gradientUnits="userSpaceOnUse" x1="122" x2="799.4" y1="0" y2="0"><stop offset="0" stop-color="#2981f6"/><stop offset=".0085" stop-color="#149df1"/><stop offset=".0171" stop-color="#04b9ea"/><stop offset=".0256" stop-color="#1dd1e2"/><stop offset=".0513" stop-color="#2adddd"/><stop offset=".0769" stop-color="#2fe0db"/><stop offset=".1282" stop-color="#30e1da"/><stop offset=".9231" stop-color="#2fe0db"/><stop offset=".9487" stop-color="#2adddd"/><stop offset=".9744" stop-color="#1dd1e2"/><stop offset=".9829" stop-color="#04b9ea"/><stop offset=".9915" stop-color="#149df1"/><stop offset="1" stop-color="#2981f6"/></linearGradient>
<linearGradient id="g72" gradientUnits="userSpaceOnUse" x1="122" x2="799.4" y1="0" y2="0"><stop offset="0" stop-color="#3079f7"/><stop offset=".0085" stop-color="#1898f2"/><stop offset=".0171" stop-color="#01b3ec"/><stop offset=".0256" stop-color="#14cae5"/><stop offset=".0513" stop-color="#22d6e0"/><stop offset=".0769" stop-color="#27dade"/><stop offset=".1282" stop-color="#27dade"/><stop offset=".9231" stop-color="#27dade"/><stop offset=".9487" stop-color="#22d6e0"/><stop offset=".9744" stop-color="#14cae5"/><stop offset=".9829" stop-color="#01b3ec"/><stop offset=".9915" stop-color="#1898f2"/><stop offset="1" stop-color="#3079f7"/></linearGradient>
<linearGradient id="g73" gradientUnits="userSpaceOnUse" x1="122" x2="799.4" y1="0" y2="0"><stop offset="0" stop-color="#3473f8"/><stop offset=".0085" stop-color="#1e91f3"/><stop offset=".0171" stop-color="#08acee"/><stop offset=".0256" stop-color="#0fc4e7"/><stop offset=".0513" stop-color="#1acfe3"/><stop offset=".0769" stop-color="#1dd1e2"/><stop offset=".1282" stop-color="#1fd3e1"/><stop offset=".9231" stop-color="#1dd1e2"/><stop offset=".9487" stop-color="#1acfe3"/><stop offset=".9744" stop-color="#0fc4e7"/><stop offset=".9829" stop-color="#08acee"/><stop offset=".9915" stop-color="#1e91f3"/><stop offset="1" stop-color="#3473f8"/></linearGradient>
<linearGradient id="g74" gradientUnits="userSpaceOnUse" x1="122" x2="799.4" y1="0" y2="0"><stop offset="0" stop-color="#386df9"/><stop offset=".0128" stop-color="#1898f2"/><stop offset=".0256" stop-color="#08bee9"/><stop offset=".0513" stop-color="#12c8e6"/><stop offset=".0769" stop-color="#14cae5"/><stop offset=".1282" stop-color="#14cae5"/><stop offset=".9231" stop-color="#14cae5"/><stop offset=".9487" stop-color="#12c8e6"/><stop offset=".9744" stop-color="#08bee9"/><stop offset=".9872" stop-color="#1898f2"/><stop offset="1" stop-color="#386df9"/></linearGradient>
<linearGradient id="g75" gradientUnits="userSpaceOnUse" x1="122" x2="799.4" y1="0" y2="0"><stop offset="0" stop-color="#3c68f9"/><stop offset=".0128" stop-color="#1e91f3"/><stop offset=".0256" stop-color="#00b5eb"/><stop offset=".0513" stop-color="#08bee9"/><stop offset=".0769" stop-color="#0ac0e8"/><stop offset=".1282" stop-color="#0dc2e8"/><stop offset=".8718" stop-color="#0dc2e8"/><stop offset=".9231" stop-color="#0ac0e8"/><stop offset=".9487" stop-color="#08bee9"/><stop offset=".9744" stop-color="#00b5eb"/><stop offset=".9872" stop-color="#1e91f3"/><stop offset="1" stop-color="#3c68f9"/></linearGradient>
<linearGradient id="g76" gradientUnits="userSpaceOnUse" x1="122" x2="799.4" y1="0" y2="0"><stop offset="0" stop-color="#425ffa"/><stop offset=".0128" stop-color="#2489f5"/><stop offset=".0256" stop-color="#08acee"/><stop offset=".0513" stop-color="#00b5eb"/><stop offset=".1282" stop-color="#02b7eb"/><stop offset=".8974" stop-color="#02b7eb"/><stop offset=".9487" stop-color="#00b5eb"/><stop offset=".9744" stop-color="#08acee"/><stop offset=".9872" stop-color="#2489f5"/><stop offset="1" stop-color="#425ffa"/></linearGradient>
<linearGradient id="g77" gradientUnits="userSpaceOnUse" x1="122" x2="799.4" y1="0" y2="0"><stop offset="0" stop-color="#4659fb"/><stop offset=".0128" stop-color="#2c7ef7"/><stop offset=".0256" stop-color="#10a2f0"/><stop offset=".0513" stop-color="#09a9ee"/><stop offset=".1282" stop-color="#08acee"/><stop offset=".8974" stop-color="#08acee"/><stop offset=".9487" stop-color="#09a9ee"/><stop offset=".9744" stop-color="#10a2f0"/><stop offset=".9872" stop-color="#2c7ef7"/><stop offset="1" stop-color="#4659fb"/></linearGradient>
<linearGradient id="g78" gradientUnits="userSpaceOnUse" x1="122" x2="799.4" y1="0" y2="0"><stop offset="0" stop-color="#4a53fb"/><stop offset=".0128" stop-color="#3176f8"/><stop offset=".0256" stop-color="#1996f3"/><stop offset=".0513" stop-color="#149df1"/><stop offset=".1026" stop-color="#11a0f1"/><stop offset=".8974" stop-color="#11a0f1"/><stop offset=".9487" stop-color="#149df1"/><stop offset=".9744" stop-color="#1996f3"/><stop offset=".9872" stop-color="#3176f8"/><stop offset="1" stop-color="#4a53fb"/></linearGradient>
<linearGradient id="g79" gradientUnits="userSpaceOnUse" x1="122" x2="799.4" y1="0" y2="0"><stop offset="0" stop-color="#504afc"/><stop offset=".0128" stop-color="#396bf9"/><stop offset=".0256" stop-color="#2489f5"/><stop offset=".0513" stop-color="#1e91f3"/><stop offset=".1026" stop-color="#1c93f3"/><stop offset=".8974" stop-color="#1c93f3"/><stop offset=".9487" stop-color="#1e91f3"/><stop offset=".9744" stop-color="#2489f5"/><stop offset=".9872" stop-color="#396bf9"/><stop offset="1" stop-color="#504afc"/></linearGradient>
<linearGradient id="g80" gradientUnits="userSpaceOnUse" x1="122" x2="799.4" y1="0" y2="0"><stop offset="0" stop-color="#5641fd"/><stop offset=".0128" stop-color="#425ffa"/><stop offset=".0256" stop-color="#2c7ef7"/><stop offset=".0513" stop-color="#2884f6"/><stop offset=".1026" stop-color="#2884f6"/><stop offset=".8974" stop-color="#2884f6"/><stop offset=".9487" stop-color="#2884f6"/><stop offset=".9744" stop-color="#2c7ef7"/><stop offset=".9872" stop-color="#425ffa"/><stop offset="1" stop-color="#5641fd"/></linearGradient>
<linearGradient id="g81" gradientUnits="userSpaceOnUse" x1="122" x2="799.4" y1="0" y2="0"><stop offset="0" stop-color="#5c38fd"/><stop offset=".0128" stop-color="#4a53fb"/><stop offset=".0256" stop-color="#3670f8"/><stop offset=".0513" stop-color="#3473f8"/><stop offset=".1026" stop-color="#3176f8"/><stop offset=".9487" stop-color="#3473f8"/><stop offset=".9744" stop-color="#3670f8"/><stop offset=".9872" stop-color="#4a53fb"/><stop offset="1" stop-color="#5c38fd"/></linearGradient>
<linearGradient id="g82" gradientUnits="userSpaceOnUse" x1="122" x2="799.4" y1="0" y2="0"><stop offset="0" stop-color="#622ffe"/><stop offset=".0256" stop-color="#425ffa"/><stop offset=".0513" stop-color="#3e65fa"/><stop offset=".1026" stop-color="#3e65fa"/><stop offset=".9487" stop-color="#3e65fa"/><stop offset=".9744" stop-color="#425ffa"/><stop offset="1" stop-color="#622ffe"/></linearGradient>
<linearGradient id="g83" gradientUnits="userSpaceOnUse" x1="122" x2="799.4" y1="0" y2="0"><stop offset="0" stop-color="#6826fe"/><stop offset=".0256" stop-color="#4a53fb"/><stop offset=".0513" stop-color="#4856fb"/><stop offset=".1026" stop-color="#4856fb"/><stop offset=".9487" stop-color="#4856fb"/><stop offset=".9744" stop-color="#4a53fb"/><stop offset="1" stop-color="#6826fe"/></linearGradient>
<linearGradient id="cbc" x1="0" x2="0" y1="1" y2="0"><stop offset="0" stop-color="#8000ff"/><stop offset="0.02" stop-color="#7610ff"/><stop offset="0.04" stop-color="#6c1fff"/><stop offset="0.06" stop-color="#6032fe"/><stop offset="0.08" stop-color="#5641fd"/><stop offset="0.1" stop-color="#4c50fc"/><stop offset="0.12" stop-color="#4062fa"/><stop offset="0.15" stop-color="#3670f8"/><stop offset="0.17" stop-color="#2c7ef7"/><stop offset="0.19" stop-color="#208ef4"/><stop offset="0.21" stop-color="#169bf2"/><stop offset="0.23" stop-color="#0ca7ef"/><stop offset="0.25" stop-color="#00b5eb"/><stop offset="0.27" stop-color="#0ac0e8"/><stop offset="0.29" stop-color="#14cae5"/><stop offset="0.31" stop-color="#20d5e1"/><stop offset="0.33" stop-color="#2adddd"/><stop offset="0.35" stop-color="#34e4d9"/><stop offset="0.38" stop-color="#40ecd4"/><stop offset="0.4" stop-color="#4af2cf"/><stop offset="0.42" stop-color="#54f6cb"/><stop offset="0.44" stop-color="#60fac5"/><stop offset="0.46" stop-color="#6afdc0"/><stop offset="0.48" stop-color="#74feba"/><stop offset="0.5" stop-color="#80ffb4"/><stop offset="0.52" stop-color="#8bfeae"/><stop offset="0.54" stop-color="#94fda8"/><stop offset="0.56" stop-color="#a0faa1"/><stop offset="0.58" stop-color="#abf69b"/><stop offset="0.6" stop-color="#b4f295"/><stop offset="0.62" stop-color="#c0eb8d"/><stop offset="0.65" stop-color="#cbe486"/><stop offset="0.67" stop-color="#d4dd80"/><stop offset="0.69" stop-color="#e0d377"/><stop offset="0.71" stop-color="#ebca70"/><stop offset="0.73" stop-color="#f4c069"/><stop offset="0.75" stop-color="#ffb360"/><stop offset="0.77" stop-color="#ffa759"/><stop offset="0.79" stop-color="#ff9b52"/><stop offset="0.81" stop-color="#ff8c49"/><stop offset="0.83" stop-color="#ff7e41"/><stop offset="0.85" stop-color="#ff703a"/><stop offset="0.88" stop-color="#ff5f30"/><stop offset="0.9" stop-color="#ff5029"/><stop offset="0.92" stop-color="#ff4121"/><stop offset="0.94" stop-color="#ff2f18"/><stop offset="0.96" stop-color="#ff1f10"/><stop offset="0.98" stop-color="#ff1008"/><stop offset="1" stop-color="#ff0000"/></linearGradient>
</defs>
<g clip-path="url(#ca)">
<rect x="135" y="17" width="673" height="20" fill="url(#g0)"/>
<rect x="135" y="17" width="673" height="20" fill="url(#g1)" mask="url(#mk)"/>
<rect x="135" y="37" width="673" height="21" fill="url(#g1)"/>
<rect x="135" y="37" width="673" height="21" fill="url(#g2)" mask="url(#mk)"/>
<rect x="135" y="58" width="673" height="20" fill="url(#g2)"/>
<rect x="135" y="58" width="673" height="20" fill="url(#g3)" mask="url(#mk)"/>
<rect x="135" y="78" width="673" height="20" fill="url(#g3)"/>
<rect x="135" y="78" width="673" height="20" fill="url(#g4)" mask="url(#mk)"/>
<rect x="135" y="98" width="673" height="19" fill="url(#g4)"/>
<rect x="135" y="98" width="673" height="19" fill="url(#g5)" mask="url(#mk)"/>
<rect x="135" y="117" width="673" height="20" fill="url(#g5)"/>
<rect x="135" y="117" width="673" height="20" fill="url(#g6)" mask="url(#mk)"/>
<rect x="135" y="137" width="673" height="20" fill="url(#g6)"/>
<rect x="135" y="137" width="673" height="20" fill="url(#g7)" mask="url(#mk)"/>
<rect x="135" y="157" width="673" height="20" fill="url(#g7)"/>
<rect x="135" y="157" width="673" height="20" fill="url(#g8)" mask="url(#mk)"/>
<rect x="135" y="177" width="673" height="20" fill="url(#g8)"/>
<rect x="135" y="177" width="673" height="20" fill="url(#g9)" mask="url(#mk)"/>
<rect x="135" y="197" width="673" height="20" fill="url(#g9)"/>
<rect x="135" y="197" width="673" height="20" fill="url(#g10)" mask="url(#mk)"/>
<rect x="135" y="217" width="673" height="20" fill="url(#g10)"/>
<rect x="135" y="217" width="673" height="20" fill="url(#g11)" mask="url(#mk)"/>
<rect x="135" y="237" width="673" height="20" fill="url(#g11)"/>
<rect x="135" y="237" width="673" height="20" fill="url(#g12)" mask="url(#mk)"/>
<rect x="135" y="257" width="673" height="20" fill="url(#g12)"/>
<rect x="135" y="257" width="673" height="20" fill="url(#g13)" mask="url(#mk)"/>
<rect x="135" y="277" width="673" height="20" fill="url(#g13)"/>
<rect x="135" y="277" width="673" height="20" fill="url(#g14)" mask="url(#mk)"/>
<rect x="135" y="297" width="673" height="20" fill="url(#g14)"/>
<rect x="135" y="297" width="673" height="20" fill="url(#g15)" mask="url(#mk)"/>
<rect x="135" y="317" width="673" height="20" fill="url(#g15)"/>
<rect x="135" y="317" width="673" height="20" fill="url(#g16)" mask="url(#mk)"/>
<rect x="135" y="337" width="673" height="19" fill="url(#g16)"/>
<rect x="135" y="337" width="673" height="19" fill="url(#g17)" mask="url(#mk)"/>
<rect x="135" y="356" width="673" height="20" fill="url(#g17)"/>
<rect x="135" y="356" width="673" height="20" fill="url(#g18)" mask="url(#mk)"/>
<rect x="135" y="376" width="673" height="20" fill="url(#g18)"/>
<rect x="135" y="376" width="673" height="20" fill="url(#g19)" mask="url(#mk)"/>
<rect x="135" y="396" width="673" height="20" fill="url(#g19)"/>
<rect x="135" y="396" width="673" height="20" fill="url(#g20)" mask="url(#mk)"/>
<rect x="135" y="416" width="673" height="20" fill="url(#g20)"/>
<rect x="135" y="416" width="673" height="20" fill="url(#g21)" mask="url(#mk)"/>
<rect x="135" y="436" width="673" height="20" fill="url(#g21)"/>
<rect x="135" y="436" width="673" height="20" fill="url(#g22)" mask="url(#mk)"/>
<rect x="135" y="456" width="673" height="20" fill="url(#g22)"/>
<rect x="135" y="456" width="673" height="20" fill="url(#g23)" mask="url(#mk)"/>
<rect x="135" y="476" width="673" height="20" fill="url(#g23)"/>
<rect x="135" y="476" width="673" height="20" fill="url(#g24)" mask="url(#mk)"/>
<rect x="135" y="496" width="673" height="20" fill="url(#g24)"/>
<rect x="135" y="496" width="673" height="20" fill="url(#g25)" mask="url(#mk)"/>
<rect x="135" y="516" width="673" height="20" fill="url(#g25)"/>
<rect x="135" y="516" width="673" height="20" fill="url(#g26)" mask="url(#mk)"/>
<rect x="135" y="536" width="673" height="20" fill="url(#g26)"/>
<rect x="135" y="536" width="673" height="20" fill="url(#g27)" mask="url(#mk)"/>
</g>
<g clip-path="url(#ca)">
<path d="M145.6 17.7 L145.6 272" stroke="#31688e" stroke-width="3.4" fill="none" stroke-linejoin="round"/>
<path d="M145.8 360 L143.7 555.5" stroke="#31688e" stroke-width="3.4" fill="none" stroke-linejoin="round"/>
<path d="M796.4 17.7 L796.4 212.7" stroke="#31688e" stroke-width="3.4" fill="none" stroke-linejoin="round"/>
<path d="M796.4 300 L798.8 555.5" stroke="#31688e" stroke-width="3.4" fill="none" stroke-linejoin="round"/>
<path d="M164.5 17.7 L165.2 272" stroke="#35b779" stroke-width="3.4" fill="none" stroke-linejoin="round"/>
<path d="M162.9 360 L162 380 L159 422 L157.5 437 L153.6 461 L152.4 500 L151.6 555.5" stroke="#35b779" stroke-width="3.4" fill="none" stroke-linejoin="round"/>
<path d="M776.7 17.7 L777.2 272" stroke="#35b779" stroke-width="3.4" fill="none" stroke-linejoin="round"/>
<path d="M779.2 360 L780.7 388 L784 432 L788.9 463 L789.5 487 L790.6 555.5" stroke="#35b779" stroke-width="3.4" fill="none" stroke-linejoin="round"/>
<text transform="translate(154.4 318.8) rotate(-90)" text-anchor="middle" font-size="24.6">3000</text>
<text transform="translate(172.8 318.8) rotate(-90)" text-anchor="middle" font-size="24.6">4000</text>
<text transform="translate(806 259.4) rotate(-90)" text-anchor="middle" font-size="24.6">3000</text>
<text transform="translate(772 315.6) rotate(90)" text-anchor="middle" font-size="24.6">4000</text>
</g>
<rect x="136.4" y="17.8" width="670.1" height="537.8" fill="none" stroke="#000" stroke-width="1.8"/>
<path d="M136.4 555.6v8.8M153.58 555.6v8.8M170.76 555.6v8.8M187.95 555.6v8.8M205.13 555.6v8.8M222.31 555.6v8.8M239.49 555.6v8.8M256.67 555.6v8.8M273.86 555.6v8.8M291.04 555.6v8.8M308.22 555.6v8.8M325.4 555.6v8.8M342.58 555.6v8.8M359.77 555.6v8.8M376.95 555.6v8.8M394.13 555.6v8.8M411.31 555.6v8.8M428.49 555.6v8.8M445.68 555.6v8.8M462.86 555.6v8.8M480.04 555.6v8.8M497.22 555.6v8.8M514.41 555.6v8.8M531.59 555.6v8.8M548.77 555.6v8.8M565.95 555.6v8.8M583.13 555.6v8.8M600.32 555.6v8.8M617.5 555.6v8.8M634.68 555.6v8.8M651.86 555.6v8.8M669.04 555.6v8.8M686.23 555.6v8.8M703.41 555.6v8.8M720.59 555.6v8.8M737.77 555.6v8.8M754.95 555.6v8.8M772.14 555.6v6.2M789.32 555.6v6.2M806.5 555.6v6.2M136.4 555.6h-8.5M136.4 495.84h-8.5M136.4 436.09h-8.5M136.4 376.33h-8.5M136.4 316.58h-8.5M136.4 256.82h-8.5M136.4 197.07h-8.5M136.4 137.31h-8.5M136.4 77.56h-8.5M136.4 17.8h-8.5" stroke="#000" stroke-width="1.8" fill="none"/>
<text transform="translate(115.7 22.1) rotate(-45)" text-anchor="end" font-size="25">Outlet</text>
<text transform="translate(115.7 561.2) rotate(-45)" text-anchor="end" font-size="25">Inlet</text>
<text transform="translate(154.2 587.6) rotate(-45)" text-anchor="end" font-size="26.3">#1</text>
<text transform="translate(807.8 584.2) rotate(-45)" text-anchor="end" font-size="26.3">#40</text>
<text transform="translate(482 599.5) scale(1 .92)" text-anchor="middle" font-size="27.5">Stacking Coordinate</text>
<text x="11" y="34.7" font-size="41">a)</text>
<rect x="847.8" y="17.8" width="27.8" height="537.8" fill="url(#cba)" stroke="#000" stroke-width="1.8"/>
<line x1="875.6" x2="884.1" y1="555.6" y2="555.6" stroke="#000" stroke-width="1.8"/>
<text x="892.1" y="564.23" font-size="25">0</text>
<line x1="875.6" x2="884.1" y1="441.17" y2="441.17" stroke="#000" stroke-width="1.8"/>
<text x="892.1" y="449.8" font-size="25">1000</text>
<line x1="875.6" x2="884.1" y1="326.75" y2="326.75" stroke="#000" stroke-width="1.8"/>
<text x="892.1" y="335.37" font-size="25">2000</text>
<line x1="875.6" x2="884.1" y1="212.32" y2="212.32" stroke="#000" stroke-width="1.8"/>
<text x="892.1" y="220.95" font-size="25">3000</text>
<line x1="875.6" x2="884.1" y1="97.9" y2="97.9" stroke="#000" stroke-width="1.8"/>
<text x="892.1" y="106.52" font-size="25">4000</text>
<text transform="translate(991.8 315.4) rotate(-90) scale(1 .92)" text-anchor="middle" font-size="26">Heat Transfer in W/m<tspan dy="-9.88" font-size="18.2">2</tspan></text>
<g clip-path="url(#cb)">
<rect x="133" y="688" width="665" height="20" fill="url(#g28)"/>
<rect x="133" y="688" width="665" height="20" fill="url(#g29)" mask="url(#mk)"/>
<rect x="133" y="708" width="665" height="21" fill="url(#g29)"/>
<rect x="133" y="708" width="665" height="21" fill="url(#g30)" mask="url(#mk)"/>
<rect x="133" y="729" width="665" height="20" fill="url(#g30)"/>
<rect x="133" y="729" width="665" height="20" fill="url(#g31)" mask="url(#mk)"/>
<rect x="133" y="749" width="665" height="20" fill="url(#g31)"/>
<rect x="133" y="749" width="665" height="20" fill="url(#g32)" mask="url(#mk)"/>
<rect x="133" y="769" width="665" height="21" fill="url(#g32)"/>
<rect x="133" y="769" width="665" height="21" fill="url(#g33)" mask="url(#mk)"/>
<rect x="133" y="790" width="665" height="20" fill="url(#g33)"/>
<rect x="133" y="790" width="665" height="20" fill="url(#g34)" mask="url(#mk)"/>
<rect x="133" y="810" width="665" height="20" fill="url(#g34)"/>
<rect x="133" y="810" width="665" height="20" fill="url(#g35)" mask="url(#mk)"/>
<rect x="133" y="830" width="665" height="20" fill="url(#g35)"/>
<rect x="133" y="830" width="665" height="20" fill="url(#g36)" mask="url(#mk)"/>
<rect x="133" y="850" width="665" height="20" fill="url(#g36)"/>
<rect x="133" y="850" width="665" height="20" fill="url(#g37)" mask="url(#mk)"/>
<rect x="133" y="870" width="665" height="20" fill="url(#g37)"/>
<rect x="133" y="870" width="665" height="20" fill="url(#g38)" mask="url(#mk)"/>
<rect x="133" y="890" width="665" height="20" fill="url(#g38)"/>
<rect x="133" y="890" width="665" height="20" fill="url(#g39)" mask="url(#mk)"/>
<rect x="133" y="910" width="665" height="20" fill="url(#g39)"/>
<rect x="133" y="910" width="665" height="20" fill="url(#g40)" mask="url(#mk)"/>
<rect x="133" y="930" width="665" height="20" fill="url(#g40)"/>
<rect x="133" y="930" width="665" height="20" fill="url(#g41)" mask="url(#mk)"/>
<rect x="133" y="950" width="665" height="21" fill="url(#g41)"/>
<rect x="133" y="950" width="665" height="21" fill="url(#g42)" mask="url(#mk)"/>
<rect x="133" y="971" width="665" height="20" fill="url(#g42)"/>
<rect x="133" y="971" width="665" height="20" fill="url(#g43)" mask="url(#mk)"/>
<rect x="133" y="991" width="665" height="20" fill="url(#g43)"/>
<rect x="133" y="991" width="665" height="20" fill="url(#g44)" mask="url(#mk)"/>
<rect x="133" y="1011" width="665" height="20" fill="url(#g44)"/>
<rect x="133" y="1011" width="665" height="20" fill="url(#g45)" mask="url(#mk)"/>
<rect x="133" y="1031" width="665" height="20" fill="url(#g45)"/>
<rect x="133" y="1031" width="665" height="20" fill="url(#g46)" mask="url(#mk)"/>
<rect x="133" y="1051" width="665" height="20" fill="url(#g46)"/>
<rect x="133" y="1051" width="665" height="20" fill="url(#g47)" mask="url(#mk)"/>
<rect x="133" y="1071" width="665" height="20" fill="url(#g47)"/>
<rect x="133" y="1071" width="665" height="20" fill="url(#g48)" mask="url(#mk)"/>
<rect x="133" y="1091" width="665" height="20" fill="url(#g48)"/>
<rect x="133" y="1091" width="665" height="20" fill="url(#g49)" mask="url(#mk)"/>
<rect x="133" y="1111" width="665" height="20" fill="url(#g49)"/>
<rect x="133" y="1111" width="665" height="20" fill="url(#g50)" mask="url(#mk)"/>
<rect x="133" y="1131" width="665" height="21" fill="url(#g50)"/>
<rect x="133" y="1131" width="665" height="21" fill="url(#g51)" mask="url(#mk)"/>
<rect x="133" y="1152" width="665" height="20" fill="url(#g51)"/>
<rect x="133" y="1152" width="665" height="20" fill="url(#g52)" mask="url(#mk)"/>
<rect x="133" y="1172" width="665" height="20" fill="url(#g52)"/>
<rect x="133" y="1172" width="665" height="20" fill="url(#g53)" mask="url(#mk)"/>
<rect x="133" y="1192" width="665" height="20" fill="url(#g53)"/>
<rect x="133" y="1192" width="665" height="20" fill="url(#g54)" mask="url(#mk)"/>
<rect x="133" y="1212" width="665" height="20" fill="url(#g54)"/>
<rect x="133" y="1212" width="665" height="20" fill="url(#g55)" mask="url(#mk)"/>
</g>
<g clip-path="url(#cb)">
<path d="M150.6 688.6 L141.8 885.5" stroke="#31688e" stroke-width="3.4" fill="none" stroke-linejoin="round"/>
<path d="M139.2 974.4 L135 1049" stroke="#31688e" stroke-width="3.4" fill="none" stroke-linejoin="round"/>
<path d="M781.3 688.6 L789.8 885.6" stroke="#31688e" stroke-width="3.4" fill="none" stroke-linejoin="round"/>
<path d="M792.4 974.8 L796.6 1112" stroke="#31688e" stroke-width="3.4" fill="none" stroke-linejoin="round"/>
<path d="M145 1232 L151.9 1125.6 L158.6 1112 L169 1084" stroke="#35b779" stroke-width="3.4" fill="none" stroke-linejoin="round"/>
<path d="M237.4 1075 L728.8 1075.2 L746.4 1076.3 L763.2 1084 L772 1112 L780 1125.6 L787.2 1232" stroke="#35b779" stroke-width="3.4" fill="none" stroke-linejoin="round"/>
<text transform="translate(148.4 933) rotate(-90)" text-anchor="middle" font-size="25">1500</text>
<text transform="translate(786.8 928.4) rotate(90)" text-anchor="middle" font-size="25">1500</text>
<text transform="translate(202.3 1082.6) rotate(-4)" text-anchor="middle" font-size="25">3000</text>
</g>
<rect x="134.7" y="688.9" width="662.3" height="543.1" fill="none" stroke="#000" stroke-width="1.8"/>
<path d="M134.7 1232v8.9M151.68 1232v8.9M168.66 1232v8.9M185.65 1232v8.9M202.63 1232v8.9M219.61 1232v8.9M236.59 1232v8.9M253.57 1232v8.9M270.56 1232v8.9M287.54 1232v8.9M304.52 1232v8.9M321.5 1232v8.9M338.48 1232v8.9M355.47 1232v8.9M372.45 1232v8.9M389.43 1232v8.9M406.41 1232v8.9M423.39 1232v8.9M440.38 1232v8.9M457.36 1232v8.9M474.34 1232v8.9M491.32 1232v8.9M508.31 1232v8.9M525.29 1232v8.9M542.27 1232v8.9M559.25 1232v8.9M576.23 1232v8.9M593.22 1232v8.9M610.2 1232v8.9M627.18 1232v8.9M644.16 1232v8.9M661.14 1232v8.9M678.13 1232v8.9M695.11 1232v8.9M712.09 1232v8.9M729.07 1232v8.9M746.05 1232v8.9M763.04 1232v8.9M780.02 1232v8.9M797 1232v8.9M134.7 1232h-8.5M134.7 1171.66h-8.5M134.7 1111.31h-8.5M134.7 1050.97h-8.5M134.7 990.62h-8.5M134.7 930.28h-8.5M134.7 869.93h-8.5M134.7 809.59h-8.5M134.7 749.24h-8.5M134.7 688.9h-8.5" stroke="#000" stroke-width="1.8" fill="none"/>
<text transform="translate(113.7 693.1) rotate(-45)" text-anchor="end" font-size="25">Outlet</text>
<text transform="translate(113.7 1237) rotate(-45)" text-anchor="end" font-size="25">Inlet</text>
<text transform="translate(155.8 1261.7) rotate(-45)" text-anchor="end" font-size="26.3">#1</text>
<text transform="translate(802.3 1256.2) rotate(-45)" text-anchor="end" font-size="26.3">#40</text>
<text transform="translate(488.5 1279.3) scale(1 .92)" text-anchor="middle" font-size="27.1">Stacking Coordinate</text>
<text x="0.5" y="688" font-size="42.5">b)</text>
<rect x="838.6" y="688.9" width="27" height="543.1" fill="url(#cbb)" stroke="#000" stroke-width="1.8"/>
<line x1="865.6" x2="874.1" y1="1232" y2="1232" stroke="#000" stroke-width="1.8"/>
<text x="882.1" y="1240.62" font-size="25">0</text>
<line x1="865.6" x2="874.1" y1="1116.45" y2="1116.45" stroke="#000" stroke-width="1.8"/>
<text x="882.1" y="1125.07" font-size="25">1000</text>
<line x1="865.6" x2="874.1" y1="1000.89" y2="1000.89" stroke="#000" stroke-width="1.8"/>
<text x="882.1" y="1009.52" font-size="25">2000</text>
<line x1="865.6" x2="874.1" y1="885.34" y2="885.34" stroke="#000" stroke-width="1.8"/>
<text x="882.1" y="893.97" font-size="25">3000</text>
<line x1="865.6" x2="874.1" y1="769.79" y2="769.79" stroke="#000" stroke-width="1.8"/>
<text x="882.1" y="778.41" font-size="25">4000</text>
<text transform="translate(992.1 950.9) rotate(-90) scale(1 .92)" text-anchor="middle" font-size="26.55">Heat Transfer in W/m<tspan dy="-10.09" font-size="18.59">2</tspan></text>
<g clip-path="url(#cc)">
<rect x="121" y="1376" width="680" height="20" fill="url(#g56)"/>
<rect x="121" y="1376" width="680" height="20" fill="url(#g57)" mask="url(#mk)"/>
<rect x="121" y="1396" width="680" height="20" fill="url(#g57)"/>
<rect x="121" y="1396" width="680" height="20" fill="url(#g58)" mask="url(#mk)"/>
<rect x="121" y="1416" width="680" height="20" fill="url(#g58)"/>
<rect x="121" y="1416" width="680" height="20" fill="url(#g59)" mask="url(#mk)"/>
<rect x="121" y="1436" width="680" height="20" fill="url(#g59)"/>
<rect x="121" y="1436" width="680" height="20" fill="url(#g60)" mask="url(#mk)"/>
<rect x="121" y="1456" width="680" height="21" fill="url(#g60)"/>
<rect x="121" y="1456" width="680" height="21" fill="url(#g61)" mask="url(#mk)"/>
<rect x="121" y="1477" width="680" height="20" fill="url(#g61)"/>
<rect x="121" y="1477" width="680" height="20" fill="url(#g62)" mask="url(#mk)"/>
<rect x="121" y="1497" width="680" height="20" fill="url(#g62)"/>
<rect x="121" y="1497" width="680" height="20" fill="url(#g63)" mask="url(#mk)"/>
<rect x="121" y="1517" width="680" height="20" fill="url(#g63)"/>
<rect x="121" y="1517" width="680" height="20" fill="url(#g64)" mask="url(#mk)"/>
<rect x="121" y="1537" width="680" height="20" fill="url(#g64)"/>
<rect x="121" y="1537" width="680" height="20" fill="url(#g65)" mask="url(#mk)"/>
<rect x="121" y="1557" width="680" height="20" fill="url(#g65)"/>
<rect x="121" y="1557" width="680" height="20" fill="url(#g66)" mask="url(#mk)"/>
<rect x="121" y="1577" width="680" height="20" fill="url(#g66)"/>
<rect x="121" y="1577" width="680" height="20" fill="url(#g67)" mask="url(#mk)"/>
<rect x="121" y="1597" width="680" height="20" fill="url(#g67)"/>
<rect x="121" y="1597" width="680" height="20" fill="url(#g68)" mask="url(#mk)"/>
<rect x="121" y="1617" width="680" height="20" fill="url(#g68)"/>
<rect x="121" y="1617" width="680" height="20" fill="url(#g69)" mask="url(#mk)"/>
<rect x="121" y="1637" width="680" height="21" fill="url(#g69)"/>
<rect x="121" y="1637" width="680" height="21" fill="url(#g70)" mask="url(#mk)"/>
<rect x="121" y="1658" width="680" height="20" fill="url(#g70)"/>
<rect x="121" y="1658" width="680" height="20" fill="url(#g71)" mask="url(#mk)"/>
<rect x="121" y="1678" width="680" height="20" fill="url(#g71)"/>
<rect x="121" y="1678" width="680" height="20" fill="url(#g72)" mask="url(#mk)"/>
<rect x="121" y="1698" width="680" height="20" fill="url(#g72)"/>
<rect x="121" y="1698" width="680" height="20" fill="url(#g73)" mask="url(#mk)"/>
<rect x="121" y="1718" width="680" height="20" fill="url(#g73)"/>
<rect x="121" y="1718" width="680" height="20" fill="url(#g74)" mask="url(#mk)"/>
<rect x="121" y="1738" width="680" height="20" fill="url(#g74)"/>
<rect x="121" y="1738" width="680" height="20" fill="url(#g75)" mask="url(#mk)"/>
<rect x="121" y="1758" width="680" height="20" fill="url(#g75)"/>
<rect x="121" y="1758" width="680" height="20" fill="url(#g76)" mask="url(#mk)"/>
<rect x="121" y="1778" width="680" height="20" fill="url(#g76)"/>
<rect x="121" y="1778" width="680" height="20" fill="url(#g77)" mask="url(#mk)"/>
<rect x="121" y="1798" width="680" height="20" fill="url(#g77)"/>
<rect x="121" y="1798" width="680" height="20" fill="url(#g78)" mask="url(#mk)"/>
<rect x="121" y="1818" width="680" height="21" fill="url(#g78)"/>
<rect x="121" y="1818" width="680" height="21" fill="url(#g79)" mask="url(#mk)"/>
<rect x="121" y="1839" width="680" height="20" fill="url(#g79)"/>
<rect x="121" y="1839" width="680" height="20" fill="url(#g80)" mask="url(#mk)"/>
<rect x="121" y="1859" width="680" height="20" fill="url(#g80)"/>
<rect x="121" y="1859" width="680" height="20" fill="url(#g81)" mask="url(#mk)"/>
<rect x="121" y="1879" width="680" height="21" fill="url(#g81)"/>
<rect x="121" y="1879" width="680" height="21" fill="url(#g82)" mask="url(#mk)"/>
<rect x="121" y="1900" width="680" height="20" fill="url(#g82)"/>
<rect x="121" y="1900" width="680" height="20" fill="url(#g83)" mask="url(#mk)"/>
</g>
<g clip-path="url(#cc)">
<path d="M122.1 1668 L123 1700 L127 1748 L131 1796 L139 1851.2 L156.9 1862.9 L174.2 1863.5 L491.9 1863.5" stroke="#3b528b" stroke-width="3.4" fill="none" stroke-linejoin="round"/>
<path d="M550.8 1863.5 L746 1863.5 L763.9 1863 L782.5 1851 L789.2 1796 L793.2 1748 L796.4 1700 L799.3 1665" stroke="#3b528b" stroke-width="3.4" fill="none" stroke-linejoin="round"/>
<path d="M129.4 1376.1 L131.4 1440 L133.9 1520 L136 1570 L139 1616 L156.6 1672 L174.2 1680 L191.5 1681.5 L207.2 1681.9" stroke="#21918c" stroke-width="3.4" fill="none" stroke-linejoin="round"/>
<path d="M279.5 1681.9 L729.8 1681.9 L746.8 1680 L764.4 1671.2 L781.5 1616 L784.5 1570 L786.5 1520 L788.8 1440 L790.8 1376.1" stroke="#21918c" stroke-width="3.4" fill="none" stroke-linejoin="round"/>
<path d="M153.9 1376.1 L156.9 1399.6 L174.2 1430.5 L191.5 1436.4 L209.4 1438 L226.3 1438.3 L712 1438.3" stroke="#5ec962" stroke-width="3.4" fill="none" stroke-linejoin="round"/>
<path d="M764.9 1392.4 L768.4 1376.1" stroke="#5ec962" stroke-width="3.4" fill="none" stroke-linejoin="round"/>
<text transform="translate(243.5 1688.5) rotate(0)" text-anchor="middle" font-size="25">1600</text>
<text transform="translate(521.2 1870.6) rotate(0)" text-anchor="middle" font-size="25">800</text>
<text transform="translate(750.9 1437.2) rotate(-36)" text-anchor="middle" font-size="25">2400</text>
</g>
<rect x="122" y="1376" width="677.4" height="543.2" fill="none" stroke="#000" stroke-width="1.8"/>
<path d="M122 1919.2v9.3M139.37 1919.2v9.3M156.74 1919.2v9.3M174.11 1919.2v9.3M191.48 1919.2v9.3M208.85 1919.2v9.3M226.22 1919.2v9.3M243.58 1919.2v9.3M260.95 1919.2v9.3M278.32 1919.2v9.3M295.69 1919.2v9.3M313.06 1919.2v9.3M330.43 1919.2v9.3M347.8 1919.2v9.3M365.17 1919.2v9.3M382.54 1919.2v9.3M399.91 1919.2v9.3M417.28 1919.2v9.3M434.65 1919.2v9.3M452.02 1919.2v9.3M469.38 1919.2v9.3M486.75 1919.2v9.3M504.12 1919.2v9.3M521.49 1919.2v9.3M538.86 1919.2v9.3M556.23 1919.2v9.3M573.6 1919.2v9.3M590.97 1919.2v9.3M608.34 1919.2v9.3M625.71 1919.2v9.3M643.08 1919.2v9.3M660.45 1919.2v9.3M677.82 1919.2v9.3M695.18 1919.2v9.3M712.55 1919.2v9.3M729.92 1919.2v9.3M747.29 1919.2v9.3M764.66 1919.2v9.3M782.03 1919.2v9.3M799.4 1919.2v9.3M122 1919.2h-8.5M122 1858.84h-8.5M122 1798.49h-8.5M122 1738.13h-8.5M122 1677.78h-8.5M122 1617.42h-8.5M122 1557.07h-8.5M122 1496.71h-8.5M122 1436.36h-8.5M122 1376h-8.5" stroke="#000" stroke-width="1.8" fill="none"/>
<text transform="translate(100.7 1381.1) rotate(-45)" text-anchor="end" font-size="25">Outlet</text>
<text transform="translate(100.7 1925.4) rotate(-45)" text-anchor="end" font-size="25">Inlet</text>
<text transform="translate(141.2 1947.4) rotate(-45)" text-anchor="end" font-size="26.3">#1</text>
<text transform="translate(808.7 1947.7) rotate(-45)" text-anchor="end" font-size="26.3">#40</text>
<text transform="translate(453 1971.9) scale(1 .92)" text-anchor="middle" font-size="27.5">Stacking Coordinate</text>
<text x="24.5" y="1368.6" font-size="41.5">c)</text>
<rect x="841.9" y="1376" width="27" height="543.2" fill="url(#cbc)" stroke="#000" stroke-width="1.8"/>
<line x1="868.9" x2="877.4" y1="1919.2" y2="1919.2" stroke="#000" stroke-width="1.8"/>
<text x="887.4" y="1927.83" font-size="25">0</text>
<line x1="868.9" x2="877.4" y1="1803.63" y2="1803.63" stroke="#000" stroke-width="1.8"/>
<text x="887.4" y="1812.25" font-size="25">1000</text>
<line x1="868.9" x2="877.4" y1="1688.05" y2="1688.05" stroke="#000" stroke-width="1.8"/>
<text x="887.4" y="1696.68" font-size="25">2000</text>
<line x1="868.9" x2="877.4" y1="1572.48" y2="1572.48" stroke="#000" stroke-width="1.8"/>
<text x="887.4" y="1581.1" font-size="25">3000</text>
<line x1="868.9" x2="877.4" y1="1456.9" y2="1456.9" stroke="#000" stroke-width="1.8"/>
<text x="887.4" y="1465.53" font-size="25">4000</text>
<text transform="translate(992.1 1645.1) rotate(-90) scale(1 .92)" text-anchor="middle" font-size="26.4">Heat Transfer in W/m<tspan dy="-10.03" font-size="18.48">2</tspan></text>
</svg>
</body></html>
